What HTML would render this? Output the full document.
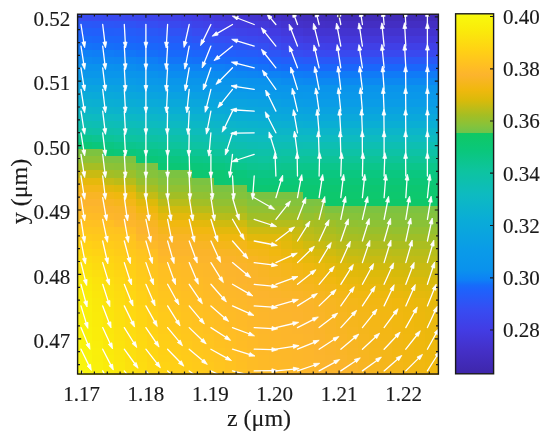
<!DOCTYPE html>
<html><head><meta charset="utf-8"><style>
html,body{margin:0;padding:0;background:#fff;width:550px;height:436px;overflow:hidden}
svg{display:block}
text{font-family:"Liberation Serif","DejaVu Serif",serif;font-size:21px;fill:#1a1a1a;stroke:#1a1a1a;stroke-width:0.15px}
</style></head><body>
<svg width="550" height="436" viewBox="0 0 550 436">
<defs><clipPath id="pc"><rect x="77.6" y="14.2" width="360.8" height="359.8"/></clipPath>
<linearGradient id="cb" x1="0" y1="0" x2="0" y2="1"><stop offset="0.0002" stop-color="#f8fa0d"/><stop offset="0.0452" stop-color="#faeb0a"/><stop offset="0.1004" stop-color="#ffd214"/><stop offset="0.1454" stop-color="#ffbe23"/><stop offset="0.1701" stop-color="#fcb42d"/><stop offset="0.2107" stop-color="#f0b80e"/><stop offset="0.2397" stop-color="#daba0a"/><stop offset="0.2811" stop-color="#a5be23"/><stop offset="0.3094" stop-color="#87c33a"/><stop offset="0.3311" stop-color="#6ec44b"/><stop offset="0.3312" stop-color="#0fc864"/><stop offset="0.3783" stop-color="#0ac77a"/><stop offset="0.4342" stop-color="#0dc49e"/><stop offset="0.5010" stop-color="#0dbbc0"/><stop offset="0.5728" stop-color="#0aacd7"/><stop offset="0.6563" stop-color="#0a9be8"/><stop offset="0.7114" stop-color="#0a92ed"/><stop offset="0.7397" stop-color="#0e80f6"/><stop offset="0.7535" stop-color="#166cfa"/><stop offset="0.7673" stop-color="#1e62fc"/><stop offset="0.8232" stop-color="#374cf2"/><stop offset="0.8783" stop-color="#423ce4"/><stop offset="0.9342" stop-color="#4430c8"/><stop offset="1.0000" stop-color="#3e26aa"/></linearGradient></defs>
<g shape-rendering="crispEdges"><rect x="77.6" y="14.2" width="3.6" height="7.6" fill="#374cf2"/><rect x="80.7" y="14.2" width="11.6" height="7.6" fill="#374bf1"/><rect x="91.8" y="14.2" width="11.6" height="7.6" fill="#384bf1"/><rect x="102.9" y="14.2" width="11.6" height="7.6" fill="#384af0"/><rect x="114.0" y="14.2" width="11.6" height="7.6" fill="#394af0"/><rect x="125.1" y="14.2" width="11.6" height="7.6" fill="#3a48ef"/><rect x="136.2" y="14.2" width="11.6" height="7.6" fill="#3b47ed"/><rect x="147.3" y="14.2" width="11.6" height="7.6" fill="#3c45ec"/><rect x="158.4" y="14.2" width="11.6" height="7.6" fill="#3d43ea"/><rect x="169.5" y="14.2" width="11.6" height="7.6" fill="#3f41e8"/><rect x="180.6" y="14.2" width="11.6" height="7.6" fill="#403ee6"/><rect x="191.7" y="14.2" width="11.6" height="7.6" fill="#423ce4"/><rect x="202.8" y="14.2" width="11.6" height="7.6" fill="#423adf"/><rect x="213.9" y="14.2" width="11.6" height="7.6" fill="#4338db"/><rect x="225.0" y="14.2" width="11.6" height="7.6" fill="#4337d7"/><rect x="236.1" y="14.2" width="11.6" height="7.6" fill="#4335d4"/><rect x="247.2" y="14.2" width="11.6" height="7.6" fill="#4334d0"/><rect x="258.3" y="14.2" width="11.6" height="7.6" fill="#4432cd"/><rect x="269.4" y="14.2" width="11.6" height="7.6" fill="#4430c9"/><rect x="280.5" y="14.2" width="11.6" height="7.6" fill="#432fc5"/><rect x="291.6" y="14.2" width="11.6" height="7.6" fill="#432ec1"/><rect x="302.7" y="14.2" width="11.6" height="7.6" fill="#422dbe"/><rect x="313.8" y="14.2" width="11.6" height="7.6" fill="#422cbd"/><rect x="324.9" y="14.2" width="11.6" height="7.6" fill="#412cbb"/><rect x="336.0" y="14.2" width="11.6" height="7.6" fill="#412bba"/><rect x="347.1" y="14.2" width="91.8" height="7.6" fill="#412bb9"/><rect x="77.6" y="21.3" width="3.6" height="7.6" fill="#2859f8"/><rect x="80.7" y="21.3" width="11.6" height="7.6" fill="#2958f8"/><rect x="91.8" y="21.3" width="11.6" height="7.6" fill="#2a57f7"/><rect x="102.9" y="21.3" width="11.6" height="7.6" fill="#2c56f7"/><rect x="114.0" y="21.3" width="11.6" height="7.6" fill="#2d55f6"/><rect x="125.1" y="21.3" width="11.6" height="7.6" fill="#2f53f5"/><rect x="136.2" y="21.3" width="11.6" height="7.6" fill="#3250f4"/><rect x="147.3" y="21.3" width="11.6" height="7.6" fill="#354ef3"/><rect x="158.4" y="21.3" width="11.6" height="7.6" fill="#384bf1"/><rect x="169.5" y="21.3" width="11.6" height="7.6" fill="#3949ef"/><rect x="180.6" y="21.3" width="11.6" height="7.6" fill="#3b46ed"/><rect x="191.7" y="21.3" width="11.6" height="7.6" fill="#3d43ea"/><rect x="202.8" y="21.3" width="11.6" height="7.6" fill="#3f41e8"/><rect x="213.9" y="21.3" width="11.6" height="7.6" fill="#403ee6"/><rect x="225.0" y="21.3" width="11.6" height="7.6" fill="#423ce4"/><rect x="236.1" y="21.3" width="11.6" height="7.6" fill="#423be1"/><rect x="247.2" y="21.3" width="11.6" height="7.6" fill="#4239de"/><rect x="258.3" y="21.3" width="11.6" height="7.6" fill="#4338da"/><rect x="269.4" y="21.3" width="11.6" height="7.6" fill="#4336d5"/><rect x="280.5" y="21.3" width="11.6" height="7.6" fill="#4333d0"/><rect x="291.6" y="21.3" width="11.6" height="7.6" fill="#4431ca"/><rect x="302.7" y="21.3" width="11.6" height="7.6" fill="#4430c7"/><rect x="313.8" y="21.3" width="11.6" height="7.6" fill="#442fc6"/><rect x="324.9" y="21.3" width="11.6" height="7.6" fill="#432fc5"/><rect x="336.0" y="21.3" width="11.6" height="7.6" fill="#432fc4"/><rect x="347.1" y="21.3" width="91.8" height="7.6" fill="#432ec3"/><rect x="77.6" y="28.4" width="3.6" height="7.6" fill="#2061fb"/><rect x="80.7" y="28.4" width="11.6" height="7.6" fill="#2060fb"/><rect x="91.8" y="28.4" width="11.6" height="7.6" fill="#215ffb"/><rect x="102.9" y="28.4" width="11.6" height="7.6" fill="#225efa"/><rect x="114.0" y="28.4" width="11.6" height="7.6" fill="#235efa"/><rect x="125.1" y="28.4" width="11.6" height="7.6" fill="#255cf9"/><rect x="136.2" y="28.4" width="11.6" height="7.6" fill="#275af8"/><rect x="147.3" y="28.4" width="11.6" height="7.6" fill="#2a58f7"/><rect x="158.4" y="28.4" width="11.6" height="7.6" fill="#2c55f6"/><rect x="169.5" y="28.4" width="11.6" height="7.6" fill="#3052f5"/><rect x="180.6" y="28.4" width="11.6" height="7.6" fill="#344ff3"/><rect x="191.7" y="28.4" width="11.6" height="7.6" fill="#384bf1"/><rect x="202.8" y="28.4" width="11.6" height="7.6" fill="#3a48ef"/><rect x="213.9" y="28.4" width="11.6" height="7.6" fill="#3b46ed"/><rect x="225.0" y="28.4" width="11.6" height="7.6" fill="#3d44eb"/><rect x="236.1" y="28.4" width="11.6" height="7.6" fill="#3e42e9"/><rect x="247.2" y="28.4" width="11.6" height="7.6" fill="#3f40e8"/><rect x="258.3" y="28.4" width="11.6" height="7.6" fill="#413ee6"/><rect x="269.4" y="28.4" width="11.6" height="7.6" fill="#423be2"/><rect x="280.5" y="28.4" width="11.6" height="7.6" fill="#4339dc"/><rect x="291.6" y="28.4" width="11.6" height="7.6" fill="#4336d7"/><rect x="302.7" y="28.4" width="22.7" height="7.6" fill="#4334d2"/><rect x="324.9" y="28.4" width="11.6" height="7.6" fill="#4334d1"/><rect x="336.0" y="28.4" width="11.6" height="7.6" fill="#4333d0"/><rect x="347.1" y="28.4" width="91.8" height="7.6" fill="#4333cf"/><rect x="77.6" y="35.5" width="3.6" height="7.6" fill="#186afa"/><rect x="80.7" y="35.5" width="11.6" height="7.6" fill="#1969fb"/><rect x="91.8" y="35.5" width="11.6" height="7.6" fill="#1a67fb"/><rect x="102.9" y="35.5" width="11.6" height="7.6" fill="#1b66fb"/><rect x="114.0" y="35.5" width="11.6" height="7.6" fill="#1c65fb"/><rect x="125.1" y="35.5" width="11.6" height="7.6" fill="#1e62fc"/><rect x="136.2" y="35.5" width="11.6" height="7.6" fill="#2060fb"/><rect x="147.3" y="35.5" width="11.6" height="7.6" fill="#225ffa"/><rect x="158.4" y="35.5" width="11.6" height="7.6" fill="#245dfa"/><rect x="169.5" y="35.5" width="11.6" height="7.6" fill="#265bf9"/><rect x="180.6" y="35.5" width="11.6" height="7.6" fill="#2a57f7"/><rect x="191.7" y="35.5" width="11.6" height="7.6" fill="#2e54f6"/><rect x="202.8" y="35.5" width="11.6" height="7.6" fill="#3251f4"/><rect x="213.9" y="35.5" width="11.6" height="7.6" fill="#354ef3"/><rect x="225.0" y="35.5" width="11.6" height="7.6" fill="#374cf2"/><rect x="236.1" y="35.5" width="11.6" height="7.6" fill="#384af0"/><rect x="247.2" y="35.5" width="11.6" height="7.6" fill="#3a48ef"/><rect x="258.3" y="35.5" width="11.6" height="7.6" fill="#3b46ed"/><rect x="269.4" y="35.5" width="11.6" height="7.6" fill="#3e43ea"/><rect x="280.5" y="35.5" width="11.6" height="7.6" fill="#403fe7"/><rect x="291.6" y="35.5" width="11.6" height="7.6" fill="#423ce3"/><rect x="302.7" y="35.5" width="11.6" height="7.6" fill="#423ade"/><rect x="313.8" y="35.5" width="11.6" height="7.6" fill="#4239de"/><rect x="324.9" y="35.5" width="11.6" height="7.6" fill="#4339dd"/><rect x="336.0" y="35.5" width="11.6" height="7.6" fill="#4338dc"/><rect x="347.1" y="35.5" width="91.8" height="7.6" fill="#4338db"/><rect x="77.6" y="42.6" width="3.6" height="7.6" fill="#1375f8"/><rect x="80.7" y="42.6" width="11.6" height="7.6" fill="#1373f9"/><rect x="91.8" y="42.6" width="11.6" height="7.6" fill="#1471f9"/><rect x="102.9" y="42.6" width="11.6" height="7.6" fill="#156ff9"/><rect x="114.0" y="42.6" width="11.6" height="7.6" fill="#166dfa"/><rect x="125.1" y="42.6" width="11.6" height="7.6" fill="#176bfa"/><rect x="136.2" y="42.6" width="11.6" height="7.6" fill="#1869fb"/><rect x="147.3" y="42.6" width="11.6" height="7.6" fill="#1a67fb"/><rect x="158.4" y="42.6" width="11.6" height="7.6" fill="#1c65fb"/><rect x="169.5" y="42.6" width="11.6" height="7.6" fill="#1e62fc"/><rect x="180.6" y="42.6" width="11.6" height="7.6" fill="#215ffb"/><rect x="191.7" y="42.6" width="11.6" height="7.6" fill="#245dfa"/><rect x="202.8" y="42.6" width="11.6" height="7.6" fill="#275af8"/><rect x="213.9" y="42.6" width="11.6" height="7.6" fill="#2a57f7"/><rect x="225.0" y="42.6" width="11.6" height="7.6" fill="#2c55f6"/><rect x="236.1" y="42.6" width="11.6" height="7.6" fill="#2f53f5"/><rect x="247.2" y="42.6" width="11.6" height="7.6" fill="#3152f5"/><rect x="258.3" y="42.6" width="11.6" height="7.6" fill="#344ff3"/><rect x="269.4" y="42.6" width="11.6" height="7.6" fill="#384bf1"/><rect x="280.5" y="42.6" width="11.6" height="7.6" fill="#3a47ee"/><rect x="291.6" y="42.6" width="11.6" height="7.6" fill="#3c44eb"/><rect x="302.7" y="42.6" width="11.6" height="7.6" fill="#3e42e9"/><rect x="313.8" y="42.6" width="11.6" height="7.6" fill="#3f41e8"/><rect x="324.9" y="42.6" width="11.6" height="7.6" fill="#3f40e8"/><rect x="336.0" y="42.6" width="11.6" height="7.6" fill="#3f40e7"/><rect x="347.1" y="42.6" width="91.8" height="7.6" fill="#4040e7"/><rect x="77.6" y="49.7" width="14.7" height="7.6" fill="#0e80f6"/><rect x="91.8" y="49.7" width="11.6" height="7.6" fill="#0f7ef6"/><rect x="102.9" y="49.7" width="11.6" height="7.6" fill="#107cf7"/><rect x="114.0" y="49.7" width="11.6" height="7.6" fill="#1179f7"/><rect x="125.1" y="49.7" width="11.6" height="7.6" fill="#1276f8"/><rect x="136.2" y="49.7" width="11.6" height="7.6" fill="#1372f9"/><rect x="147.3" y="49.7" width="11.6" height="7.6" fill="#156ff9"/><rect x="158.4" y="49.7" width="11.6" height="7.6" fill="#176bfa"/><rect x="169.5" y="49.7" width="11.6" height="7.6" fill="#1869fb"/><rect x="180.6" y="49.7" width="11.6" height="7.6" fill="#1a67fb"/><rect x="191.7" y="49.7" width="11.6" height="7.6" fill="#1c65fb"/><rect x="202.8" y="49.7" width="11.6" height="7.6" fill="#1d63fc"/><rect x="213.9" y="49.7" width="11.6" height="7.6" fill="#1f61fc"/><rect x="225.0" y="49.7" width="11.6" height="7.6" fill="#215ffb"/><rect x="236.1" y="49.7" width="11.6" height="7.6" fill="#235dfa"/><rect x="247.2" y="49.7" width="11.6" height="7.6" fill="#255cf9"/><rect x="258.3" y="49.7" width="11.6" height="7.6" fill="#2859f8"/><rect x="269.4" y="49.7" width="11.6" height="7.6" fill="#2d55f6"/><rect x="280.5" y="49.7" width="11.6" height="7.6" fill="#3151f4"/><rect x="291.6" y="49.7" width="11.6" height="7.6" fill="#364df2"/><rect x="302.7" y="49.7" width="11.6" height="7.6" fill="#384af1"/><rect x="313.8" y="49.7" width="11.6" height="7.6" fill="#384af0"/><rect x="324.9" y="49.7" width="11.6" height="7.6" fill="#3949f0"/><rect x="336.0" y="49.7" width="102.9" height="7.6" fill="#3949ef"/><rect x="77.6" y="56.8" width="3.6" height="7.6" fill="#0c89f1"/><rect x="80.7" y="56.8" width="11.6" height="7.6" fill="#0c89f2"/><rect x="91.8" y="56.8" width="11.6" height="7.6" fill="#0c87f2"/><rect x="102.9" y="56.8" width="11.6" height="7.6" fill="#0d86f3"/><rect x="114.0" y="56.8" width="11.6" height="7.6" fill="#0d85f3"/><rect x="125.1" y="56.8" width="11.6" height="7.6" fill="#0d84f4"/><rect x="136.2" y="56.8" width="11.6" height="7.6" fill="#0e81f5"/><rect x="147.3" y="56.8" width="11.6" height="7.6" fill="#0f7ef6"/><rect x="158.4" y="56.8" width="11.6" height="7.6" fill="#1178f8"/><rect x="169.5" y="56.8" width="11.6" height="7.6" fill="#1375f8"/><rect x="180.6" y="56.8" width="11.6" height="7.6" fill="#1373f9"/><rect x="191.7" y="56.8" width="11.6" height="7.6" fill="#1471f9"/><rect x="202.8" y="56.8" width="11.6" height="7.6" fill="#156ff9"/><rect x="213.9" y="56.8" width="11.6" height="7.6" fill="#166dfa"/><rect x="225.0" y="56.8" width="11.6" height="7.6" fill="#176bfa"/><rect x="236.1" y="56.8" width="11.6" height="7.6" fill="#1869fb"/><rect x="247.2" y="56.8" width="11.6" height="7.6" fill="#1a67fb"/><rect x="258.3" y="56.8" width="11.6" height="7.6" fill="#1c64fc"/><rect x="269.4" y="56.8" width="11.6" height="7.6" fill="#2060fb"/><rect x="280.5" y="56.8" width="11.6" height="7.6" fill="#235efa"/><rect x="291.6" y="56.8" width="11.6" height="7.6" fill="#265bf9"/><rect x="302.7" y="56.8" width="11.6" height="7.6" fill="#2959f8"/><rect x="313.8" y="56.8" width="11.6" height="7.6" fill="#2958f8"/><rect x="324.9" y="56.8" width="11.6" height="7.6" fill="#2958f7"/><rect x="336.0" y="56.8" width="102.9" height="7.6" fill="#2a58f7"/><rect x="77.6" y="63.9" width="25.8" height="7.6" fill="#0a92ed"/><rect x="102.9" y="63.9" width="11.6" height="7.6" fill="#0a91ee"/><rect x="114.0" y="63.9" width="11.6" height="7.6" fill="#0a90ee"/><rect x="125.1" y="63.9" width="11.6" height="7.6" fill="#0b8eef"/><rect x="136.2" y="63.9" width="11.6" height="7.6" fill="#0b8bf0"/><rect x="147.3" y="63.9" width="11.6" height="7.6" fill="#0c88f2"/><rect x="158.4" y="63.9" width="11.6" height="7.6" fill="#0d86f3"/><rect x="169.5" y="63.9" width="11.6" height="7.6" fill="#0d84f4"/><rect x="180.6" y="63.9" width="11.6" height="7.6" fill="#0d83f5"/><rect x="191.7" y="63.9" width="11.6" height="7.6" fill="#0e82f5"/><rect x="202.8" y="63.9" width="11.6" height="7.6" fill="#0e81f5"/><rect x="213.9" y="63.9" width="11.6" height="7.6" fill="#0e80f6"/><rect x="225.0" y="63.9" width="11.6" height="7.6" fill="#0f7df7"/><rect x="236.1" y="63.9" width="11.6" height="7.6" fill="#107af7"/><rect x="247.2" y="63.9" width="11.6" height="7.6" fill="#1277f8"/><rect x="258.3" y="63.9" width="11.6" height="7.6" fill="#1373f9"/><rect x="269.4" y="63.9" width="11.6" height="7.6" fill="#156efa"/><rect x="280.5" y="63.9" width="11.6" height="7.6" fill="#176bfa"/><rect x="291.6" y="63.9" width="11.6" height="7.6" fill="#1968fb"/><rect x="302.7" y="63.9" width="136.2" height="7.6" fill="#1a67fb"/><rect x="77.6" y="71.0" width="25.8" height="7.6" fill="#0a97ea"/><rect x="102.9" y="71.0" width="22.7" height="7.6" fill="#0a96eb"/><rect x="125.1" y="71.0" width="11.6" height="7.6" fill="#0a95eb"/><rect x="136.2" y="71.0" width="11.6" height="7.6" fill="#0a94ec"/><rect x="147.3" y="71.0" width="11.6" height="7.6" fill="#0a92ed"/><rect x="158.4" y="71.0" width="11.6" height="7.6" fill="#0b8fee"/><rect x="169.5" y="71.0" width="44.9" height="7.6" fill="#0b8df0"/><rect x="213.9" y="71.0" width="11.6" height="7.6" fill="#0b8cf0"/><rect x="225.0" y="71.0" width="11.6" height="7.6" fill="#0c89f1"/><rect x="236.1" y="71.0" width="11.6" height="7.6" fill="#0c87f2"/><rect x="247.2" y="71.0" width="11.6" height="7.6" fill="#0d85f3"/><rect x="258.3" y="71.0" width="11.6" height="7.6" fill="#0d83f4"/><rect x="269.4" y="71.0" width="11.6" height="7.6" fill="#0e82f5"/><rect x="280.5" y="71.0" width="11.6" height="7.6" fill="#0e80f6"/><rect x="291.6" y="71.0" width="11.6" height="7.6" fill="#0f7df7"/><rect x="302.7" y="71.0" width="136.2" height="7.6" fill="#107bf7"/><rect x="77.6" y="78.1" width="3.6" height="7.6" fill="#0a9fe4"/><rect x="80.7" y="78.1" width="11.6" height="7.6" fill="#0a9ee5"/><rect x="91.8" y="78.1" width="11.6" height="7.6" fill="#0a9de6"/><rect x="102.9" y="78.1" width="22.7" height="7.6" fill="#0a9ce7"/><rect x="125.1" y="78.1" width="11.6" height="7.6" fill="#0a9be8"/><rect x="136.2" y="78.1" width="11.6" height="7.6" fill="#0a99e9"/><rect x="147.3" y="78.1" width="11.6" height="7.6" fill="#0a98ea"/><rect x="158.4" y="78.1" width="11.6" height="7.6" fill="#0a97ea"/><rect x="169.5" y="78.1" width="11.6" height="7.6" fill="#0a96eb"/><rect x="180.6" y="78.1" width="22.7" height="7.6" fill="#0a95eb"/><rect x="202.8" y="78.1" width="22.7" height="7.6" fill="#0a94ec"/><rect x="225.0" y="78.1" width="11.6" height="7.6" fill="#0a93ec"/><rect x="236.1" y="78.1" width="11.6" height="7.6" fill="#0a93ed"/><rect x="247.2" y="78.1" width="22.7" height="7.6" fill="#0a92ed"/><rect x="269.4" y="78.1" width="11.6" height="7.6" fill="#0b8fef"/><rect x="280.5" y="78.1" width="11.6" height="7.6" fill="#0b8cf0"/><rect x="291.6" y="78.1" width="11.6" height="7.6" fill="#0c8af1"/><rect x="302.7" y="78.1" width="136.2" height="7.6" fill="#0c88f2"/><rect x="77.6" y="85.2" width="3.6" height="7.6" fill="#0aa5de"/><rect x="80.7" y="85.2" width="22.7" height="7.6" fill="#0aa4df"/><rect x="102.9" y="85.2" width="11.6" height="7.6" fill="#0aa3e0"/><rect x="114.0" y="85.2" width="11.6" height="7.6" fill="#0aa2e1"/><rect x="125.1" y="85.2" width="11.6" height="7.6" fill="#0aa1e2"/><rect x="136.2" y="85.2" width="11.6" height="7.6" fill="#0a9fe4"/><rect x="147.3" y="85.2" width="11.6" height="7.6" fill="#0a9ee5"/><rect x="158.4" y="85.2" width="11.6" height="7.6" fill="#0a9de6"/><rect x="169.5" y="85.2" width="11.6" height="7.6" fill="#0a9be8"/><rect x="180.6" y="85.2" width="11.6" height="7.6" fill="#0a9ae8"/><rect x="191.7" y="85.2" width="11.6" height="7.6" fill="#0a9ae9"/><rect x="202.8" y="85.2" width="11.6" height="7.6" fill="#0a99e9"/><rect x="213.9" y="85.2" width="22.7" height="7.6" fill="#0a98ea"/><rect x="236.1" y="85.2" width="11.6" height="7.6" fill="#0a97ea"/><rect x="247.2" y="85.2" width="22.7" height="7.6" fill="#0a96eb"/><rect x="269.4" y="85.2" width="11.6" height="7.6" fill="#0a95eb"/><rect x="280.5" y="85.2" width="11.6" height="7.6" fill="#0a95ec"/><rect x="291.6" y="85.2" width="147.3" height="7.6" fill="#0a94ec"/><rect x="77.6" y="92.3" width="14.7" height="7.6" fill="#0aabd8"/><rect x="91.8" y="92.3" width="11.6" height="7.6" fill="#0aaad9"/><rect x="102.9" y="92.3" width="11.6" height="7.6" fill="#0aa9da"/><rect x="114.0" y="92.3" width="11.6" height="7.6" fill="#0aa8db"/><rect x="125.1" y="92.3" width="11.6" height="7.6" fill="#0aa7dc"/><rect x="136.2" y="92.3" width="11.6" height="7.6" fill="#0aa6dd"/><rect x="147.3" y="92.3" width="11.6" height="7.6" fill="#0aa4df"/><rect x="158.4" y="92.3" width="11.6" height="7.6" fill="#0aa3e0"/><rect x="169.5" y="92.3" width="11.6" height="7.6" fill="#0aa2e1"/><rect x="180.6" y="92.3" width="11.6" height="7.6" fill="#0aa1e2"/><rect x="191.7" y="92.3" width="11.6" height="7.6" fill="#0aa0e3"/><rect x="202.8" y="92.3" width="11.6" height="7.6" fill="#0a9fe4"/><rect x="213.9" y="92.3" width="11.6" height="7.6" fill="#0a9ee5"/><rect x="225.0" y="92.3" width="11.6" height="7.6" fill="#0a9de6"/><rect x="236.1" y="92.3" width="11.6" height="7.6" fill="#0a9ce7"/><rect x="247.2" y="92.3" width="22.7" height="7.6" fill="#0a9be8"/><rect x="269.4" y="92.3" width="11.6" height="7.6" fill="#0a9ae9"/><rect x="280.5" y="92.3" width="11.6" height="7.6" fill="#0a99e9"/><rect x="291.6" y="92.3" width="11.6" height="7.6" fill="#0a98e9"/><rect x="302.7" y="92.3" width="136.2" height="7.6" fill="#0a98ea"/><rect x="77.6" y="99.4" width="3.6" height="7.6" fill="#0bb0d0"/><rect x="80.7" y="99.4" width="11.6" height="7.6" fill="#0bb0d1"/><rect x="91.8" y="99.4" width="11.6" height="7.6" fill="#0bafd2"/><rect x="102.9" y="99.4" width="11.6" height="7.6" fill="#0aaed4"/><rect x="114.0" y="99.4" width="11.6" height="7.6" fill="#0aadd5"/><rect x="125.1" y="99.4" width="11.6" height="7.6" fill="#0aacd6"/><rect x="136.2" y="99.4" width="11.6" height="7.6" fill="#0aabd8"/><rect x="147.3" y="99.4" width="11.6" height="7.6" fill="#0aaad9"/><rect x="158.4" y="99.4" width="11.6" height="7.6" fill="#0aa9da"/><rect x="169.5" y="99.4" width="11.6" height="7.6" fill="#0aa8db"/><rect x="180.6" y="99.4" width="11.6" height="7.6" fill="#0aa7dc"/><rect x="191.7" y="99.4" width="11.6" height="7.6" fill="#0aa6dd"/><rect x="202.8" y="99.4" width="11.6" height="7.6" fill="#0aa5de"/><rect x="213.9" y="99.4" width="11.6" height="7.6" fill="#0aa4df"/><rect x="225.0" y="99.4" width="22.7" height="7.6" fill="#0aa3e0"/><rect x="247.2" y="99.4" width="11.6" height="7.6" fill="#0aa2e1"/><rect x="258.3" y="99.4" width="11.6" height="7.6" fill="#0aa1e2"/><rect x="269.4" y="99.4" width="11.6" height="7.6" fill="#0aa0e3"/><rect x="280.5" y="99.4" width="11.6" height="7.6" fill="#0a9ee5"/><rect x="291.6" y="99.4" width="11.6" height="7.6" fill="#0a9de6"/><rect x="302.7" y="99.4" width="136.2" height="7.6" fill="#0a9ce7"/><rect x="77.6" y="106.5" width="3.6" height="7.6" fill="#0cb6c8"/><rect x="80.7" y="106.5" width="11.6" height="7.6" fill="#0cb5c9"/><rect x="91.8" y="106.5" width="11.6" height="7.6" fill="#0cb4ca"/><rect x="102.9" y="106.5" width="11.6" height="7.6" fill="#0bb3cc"/><rect x="114.0" y="106.5" width="11.6" height="7.6" fill="#0bb2cd"/><rect x="125.1" y="106.5" width="11.6" height="7.6" fill="#0bb2cf"/><rect x="136.2" y="106.5" width="11.6" height="7.6" fill="#0bb1d0"/><rect x="147.3" y="106.5" width="11.6" height="7.6" fill="#0bb0d1"/><rect x="158.4" y="106.5" width="11.6" height="7.6" fill="#0bafd3"/><rect x="169.5" y="106.5" width="11.6" height="7.6" fill="#0aaed4"/><rect x="180.6" y="106.5" width="11.6" height="7.6" fill="#0aadd6"/><rect x="191.7" y="106.5" width="11.6" height="7.6" fill="#0aacd7"/><rect x="202.8" y="106.5" width="11.6" height="7.6" fill="#0aabd8"/><rect x="213.9" y="106.5" width="11.6" height="7.6" fill="#0aaad9"/><rect x="225.0" y="106.5" width="11.6" height="7.6" fill="#0aa9da"/><rect x="236.1" y="106.5" width="11.6" height="7.6" fill="#0aa8db"/><rect x="247.2" y="106.5" width="11.6" height="7.6" fill="#0aa7dc"/><rect x="258.3" y="106.5" width="11.6" height="7.6" fill="#0aa6dd"/><rect x="269.4" y="106.5" width="11.6" height="7.6" fill="#0aa5de"/><rect x="280.5" y="106.5" width="11.6" height="7.6" fill="#0aa4df"/><rect x="291.6" y="106.5" width="11.6" height="7.6" fill="#0aa3e0"/><rect x="302.7" y="106.5" width="136.2" height="7.6" fill="#0aa2e1"/><rect x="77.6" y="113.6" width="3.6" height="7.6" fill="#0dbbbe"/><rect x="80.7" y="113.6" width="11.6" height="7.6" fill="#0dbbbf"/><rect x="91.8" y="113.6" width="11.6" height="7.6" fill="#0dbac1"/><rect x="102.9" y="113.6" width="11.6" height="7.6" fill="#0dbac2"/><rect x="114.0" y="113.6" width="11.6" height="7.6" fill="#0db9c4"/><rect x="125.1" y="113.6" width="11.6" height="7.6" fill="#0cb8c5"/><rect x="136.2" y="113.6" width="11.6" height="7.6" fill="#0cb7c7"/><rect x="147.3" y="113.6" width="11.6" height="7.6" fill="#0cb6c8"/><rect x="158.4" y="113.6" width="11.6" height="7.6" fill="#0cb5ca"/><rect x="169.5" y="113.6" width="11.6" height="7.6" fill="#0cb4cb"/><rect x="180.6" y="113.6" width="11.6" height="7.6" fill="#0bb3cd"/><rect x="191.7" y="113.6" width="11.6" height="7.6" fill="#0bb2ce"/><rect x="202.8" y="113.6" width="11.6" height="7.6" fill="#0bb1d0"/><rect x="213.9" y="113.6" width="11.6" height="7.6" fill="#0bb0d2"/><rect x="225.0" y="113.6" width="11.6" height="7.6" fill="#0aaed3"/><rect x="236.1" y="113.6" width="11.6" height="7.6" fill="#0aadd5"/><rect x="247.2" y="113.6" width="11.6" height="7.6" fill="#0aacd7"/><rect x="258.3" y="113.6" width="11.6" height="7.6" fill="#0aabd8"/><rect x="269.4" y="113.6" width="11.6" height="7.6" fill="#0aaad9"/><rect x="280.5" y="113.6" width="22.7" height="7.6" fill="#0aa9da"/><rect x="302.7" y="113.6" width="136.2" height="7.6" fill="#0aa8db"/><rect x="77.6" y="120.7" width="3.6" height="7.6" fill="#0dbfb1"/><rect x="80.7" y="120.7" width="11.6" height="7.6" fill="#0dbfb2"/><rect x="91.8" y="120.7" width="11.6" height="7.6" fill="#0dbeb4"/><rect x="102.9" y="120.7" width="11.6" height="7.6" fill="#0dbeb6"/><rect x="114.0" y="120.7" width="11.6" height="7.6" fill="#0dbdb8"/><rect x="125.1" y="120.7" width="11.6" height="7.6" fill="#0dbdba"/><rect x="136.2" y="120.7" width="11.6" height="7.6" fill="#0dbcbc"/><rect x="147.3" y="120.7" width="11.6" height="7.6" fill="#0dbbbf"/><rect x="158.4" y="120.7" width="11.6" height="7.6" fill="#0dbac1"/><rect x="169.5" y="120.7" width="11.6" height="7.6" fill="#0db9c2"/><rect x="180.6" y="120.7" width="11.6" height="7.6" fill="#0cb8c4"/><rect x="191.7" y="120.7" width="11.6" height="7.6" fill="#0cb7c6"/><rect x="202.8" y="120.7" width="11.6" height="7.6" fill="#0cb6c7"/><rect x="213.9" y="120.7" width="11.6" height="7.6" fill="#0cb5c9"/><rect x="225.0" y="120.7" width="11.6" height="7.6" fill="#0cb4cb"/><rect x="236.1" y="120.7" width="11.6" height="7.6" fill="#0bb3cd"/><rect x="247.2" y="120.7" width="11.6" height="7.6" fill="#0bb2ce"/><rect x="258.3" y="120.7" width="11.6" height="7.6" fill="#0bb1d0"/><rect x="269.4" y="120.7" width="11.6" height="7.6" fill="#0bb0d1"/><rect x="280.5" y="120.7" width="11.6" height="7.6" fill="#0bafd2"/><rect x="291.6" y="120.7" width="11.6" height="7.6" fill="#0bafd3"/><rect x="302.7" y="120.7" width="136.2" height="7.6" fill="#0aaed4"/><rect x="77.6" y="127.8" width="3.6" height="7.6" fill="#0dc3a2"/><rect x="80.7" y="127.8" width="11.6" height="7.6" fill="#0dc3a4"/><rect x="91.8" y="127.8" width="11.6" height="7.6" fill="#0dc2a6"/><rect x="102.9" y="127.8" width="11.6" height="7.6" fill="#0dc1a9"/><rect x="114.0" y="127.8" width="11.6" height="7.6" fill="#0dc1ab"/><rect x="125.1" y="127.8" width="11.6" height="7.6" fill="#0dc0ad"/><rect x="136.2" y="127.8" width="11.6" height="7.6" fill="#0dbfaf"/><rect x="147.3" y="127.8" width="11.6" height="7.6" fill="#0dbfb2"/><rect x="158.4" y="127.8" width="11.6" height="7.6" fill="#0dbeb4"/><rect x="169.5" y="127.8" width="11.6" height="7.6" fill="#0dbeb6"/><rect x="180.6" y="127.8" width="11.6" height="7.6" fill="#0dbdb9"/><rect x="191.7" y="127.8" width="11.6" height="7.6" fill="#0dbcbc"/><rect x="202.8" y="127.8" width="11.6" height="7.6" fill="#0dbbbe"/><rect x="213.9" y="127.8" width="11.6" height="7.6" fill="#0dbac1"/><rect x="225.0" y="127.8" width="11.6" height="7.6" fill="#0db9c3"/><rect x="236.1" y="127.8" width="11.6" height="7.6" fill="#0cb8c5"/><rect x="247.2" y="127.8" width="11.6" height="7.6" fill="#0cb7c7"/><rect x="258.3" y="127.8" width="11.6" height="7.6" fill="#0cb6c8"/><rect x="269.4" y="127.8" width="11.6" height="7.6" fill="#0cb5c8"/><rect x="280.5" y="127.8" width="22.7" height="7.6" fill="#0cb5c9"/><rect x="302.7" y="127.8" width="136.2" height="7.6" fill="#0cb5ca"/><rect x="77.6" y="134.9" width="3.6" height="7.6" fill="#0bc689"/><rect x="80.7" y="134.9" width="11.6" height="7.6" fill="#0bc68c"/><rect x="91.8" y="134.9" width="11.6" height="7.6" fill="#0cc591"/><rect x="102.9" y="134.9" width="11.6" height="7.6" fill="#0cc597"/><rect x="114.0" y="134.9" width="11.6" height="7.6" fill="#0dc49c"/><rect x="125.1" y="134.9" width="11.6" height="7.6" fill="#0dc4a0"/><rect x="136.2" y="134.9" width="11.6" height="7.6" fill="#0dc3a2"/><rect x="147.3" y="134.9" width="11.6" height="7.6" fill="#0dc2a4"/><rect x="158.4" y="134.9" width="11.6" height="7.6" fill="#0dc2a6"/><rect x="169.5" y="134.9" width="11.6" height="7.6" fill="#0dc1a9"/><rect x="180.6" y="134.9" width="11.6" height="7.6" fill="#0dc0ac"/><rect x="191.7" y="134.9" width="11.6" height="7.6" fill="#0dbfaf"/><rect x="202.8" y="134.9" width="11.6" height="7.6" fill="#0dbfb2"/><rect x="213.9" y="134.9" width="11.6" height="7.6" fill="#0dbeb5"/><rect x="225.0" y="134.9" width="11.6" height="7.6" fill="#0dbdb9"/><rect x="236.1" y="134.9" width="11.6" height="7.6" fill="#0dbcbc"/><rect x="247.2" y="134.9" width="11.6" height="7.6" fill="#0dbbbf"/><rect x="258.3" y="134.9" width="180.6" height="7.6" fill="#0dbbc0"/><rect x="77.6" y="142.0" width="3.6" height="7.6" fill="#0bc774"/><rect x="80.7" y="142.0" width="11.6" height="7.6" fill="#0bc776"/><rect x="91.8" y="142.0" width="11.6" height="7.6" fill="#0ac77b"/><rect x="102.9" y="142.0" width="11.6" height="7.6" fill="#0bc682"/><rect x="114.0" y="142.0" width="11.6" height="7.6" fill="#0bc688"/><rect x="125.1" y="142.0" width="11.6" height="7.6" fill="#0cc58d"/><rect x="136.2" y="142.0" width="11.6" height="7.6" fill="#0cc591"/><rect x="147.3" y="142.0" width="11.6" height="7.6" fill="#0cc595"/><rect x="158.4" y="142.0" width="11.6" height="7.6" fill="#0dc498"/><rect x="169.5" y="142.0" width="11.6" height="7.6" fill="#0dc49c"/><rect x="180.6" y="142.0" width="11.6" height="7.6" fill="#0dc3a0"/><rect x="191.7" y="142.0" width="11.6" height="7.6" fill="#0dc3a3"/><rect x="202.8" y="142.0" width="11.6" height="7.6" fill="#0dc2a6"/><rect x="213.9" y="142.0" width="11.6" height="7.6" fill="#0dc1a9"/><rect x="225.0" y="142.0" width="11.6" height="7.6" fill="#0dc0ad"/><rect x="236.1" y="142.0" width="11.6" height="7.6" fill="#0dbfb0"/><rect x="247.2" y="142.0" width="11.6" height="7.6" fill="#0dbeb3"/><rect x="258.3" y="142.0" width="11.6" height="7.6" fill="#0dbeb5"/><rect x="269.4" y="142.0" width="11.6" height="7.6" fill="#0dbeb4"/><rect x="280.5" y="142.0" width="22.7" height="7.6" fill="#0dbeb3"/><rect x="302.7" y="142.0" width="136.2" height="7.6" fill="#0dbfb2"/><rect x="77.6" y="149.1" width="25.8" height="7.6" fill="#7dc340"/><rect x="102.9" y="149.1" width="11.6" height="7.6" fill="#0bc774"/><rect x="114.0" y="149.1" width="11.6" height="7.6" fill="#0bc778"/><rect x="125.1" y="149.1" width="11.6" height="7.6" fill="#0ac77b"/><rect x="136.2" y="149.1" width="11.6" height="7.6" fill="#0ac780"/><rect x="147.3" y="149.1" width="11.6" height="7.6" fill="#0bc685"/><rect x="158.4" y="149.1" width="11.6" height="7.6" fill="#0bc689"/><rect x="169.5" y="149.1" width="11.6" height="7.6" fill="#0cc58e"/><rect x="180.6" y="149.1" width="11.6" height="7.6" fill="#0cc592"/><rect x="191.7" y="149.1" width="11.6" height="7.6" fill="#0cc596"/><rect x="202.8" y="149.1" width="11.6" height="7.6" fill="#0dc499"/><rect x="213.9" y="149.1" width="11.6" height="7.6" fill="#0dc49d"/><rect x="225.0" y="149.1" width="11.6" height="7.6" fill="#0dc3a1"/><rect x="236.1" y="149.1" width="11.6" height="7.6" fill="#0dc2a4"/><rect x="247.2" y="149.1" width="11.6" height="7.6" fill="#0dc1a7"/><rect x="258.3" y="149.1" width="11.6" height="7.6" fill="#0dc1a9"/><rect x="269.4" y="149.1" width="11.6" height="7.6" fill="#0dc1a8"/><rect x="280.5" y="149.1" width="22.7" height="7.6" fill="#0dc2a7"/><rect x="302.7" y="149.1" width="136.2" height="7.6" fill="#0dc2a6"/><rect x="77.6" y="156.2" width="25.8" height="7.6" fill="#8ec235"/><rect x="102.9" y="156.2" width="22.7" height="7.6" fill="#7dc341"/><rect x="125.1" y="156.2" width="11.6" height="7.6" fill="#7cc341"/><rect x="136.2" y="156.2" width="11.6" height="7.6" fill="#0bc777"/><rect x="147.3" y="156.2" width="11.6" height="7.6" fill="#0ac779"/><rect x="158.4" y="156.2" width="11.6" height="7.6" fill="#0ac77d"/><rect x="169.5" y="156.2" width="11.6" height="7.6" fill="#0bc680"/><rect x="180.6" y="156.2" width="11.6" height="7.6" fill="#0bc684"/><rect x="191.7" y="156.2" width="11.6" height="7.6" fill="#0bc687"/><rect x="202.8" y="156.2" width="11.6" height="7.6" fill="#0bc68a"/><rect x="213.9" y="156.2" width="11.6" height="7.6" fill="#0cc58e"/><rect x="225.0" y="156.2" width="11.6" height="7.6" fill="#0cc593"/><rect x="236.1" y="156.2" width="11.6" height="7.6" fill="#0cc598"/><rect x="247.2" y="156.2" width="11.6" height="7.6" fill="#0dc49c"/><rect x="258.3" y="156.2" width="11.6" height="7.6" fill="#0dc49f"/><rect x="269.4" y="156.2" width="11.6" height="7.6" fill="#0dc49d"/><rect x="280.5" y="156.2" width="11.6" height="7.6" fill="#0dc49b"/><rect x="291.6" y="156.2" width="11.6" height="7.6" fill="#0dc499"/><rect x="302.7" y="156.2" width="136.2" height="7.6" fill="#0dc498"/><rect x="77.6" y="163.3" width="25.8" height="7.6" fill="#a6be23"/><rect x="102.9" y="163.3" width="11.6" height="7.6" fill="#8dc236"/><rect x="114.0" y="163.3" width="11.6" height="7.6" fill="#8bc237"/><rect x="125.1" y="163.3" width="11.6" height="7.6" fill="#89c338"/><rect x="136.2" y="163.3" width="11.6" height="7.6" fill="#7cc341"/><rect x="147.3" y="163.3" width="11.6" height="7.6" fill="#7cc342"/><rect x="158.4" y="163.3" width="11.6" height="7.6" fill="#0bc774"/><rect x="169.5" y="163.3" width="11.6" height="7.6" fill="#0bc775"/><rect x="180.6" y="163.3" width="11.6" height="7.6" fill="#0bc777"/><rect x="191.7" y="163.3" width="11.6" height="7.6" fill="#0ac779"/><rect x="202.8" y="163.3" width="11.6" height="7.6" fill="#0ac77b"/><rect x="213.9" y="163.3" width="11.6" height="7.6" fill="#0ac77f"/><rect x="225.0" y="163.3" width="11.6" height="7.6" fill="#0bc684"/><rect x="236.1" y="163.3" width="11.6" height="7.6" fill="#0bc68a"/><rect x="247.2" y="163.3" width="11.6" height="7.6" fill="#0cc58f"/><rect x="258.3" y="163.3" width="11.6" height="7.6" fill="#0cc591"/><rect x="269.4" y="163.3" width="11.6" height="7.6" fill="#0cc58f"/><rect x="280.5" y="163.3" width="11.6" height="7.6" fill="#0cc58d"/><rect x="291.6" y="163.3" width="11.6" height="7.6" fill="#0bc68b"/><rect x="302.7" y="163.3" width="136.2" height="7.6" fill="#0bc68a"/><rect x="77.6" y="170.4" width="25.8" height="7.6" fill="#c9bb12"/><rect x="102.9" y="170.4" width="11.6" height="7.6" fill="#a3be25"/><rect x="114.0" y="170.4" width="11.6" height="7.6" fill="#9fbf28"/><rect x="125.1" y="170.4" width="11.6" height="7.6" fill="#9bc02b"/><rect x="136.2" y="170.4" width="11.6" height="7.6" fill="#88c339"/><rect x="147.3" y="170.4" width="11.6" height="7.6" fill="#86c33b"/><rect x="158.4" y="170.4" width="33.8" height="7.6" fill="#7bc342"/><rect x="191.7" y="170.4" width="11.6" height="7.6" fill="#0cc770"/><rect x="202.8" y="170.4" width="11.6" height="7.6" fill="#0cc771"/><rect x="213.9" y="170.4" width="11.6" height="7.6" fill="#0cc773"/><rect x="225.0" y="170.4" width="11.6" height="7.6" fill="#0bc777"/><rect x="236.1" y="170.4" width="11.6" height="7.6" fill="#0ac77c"/><rect x="247.2" y="170.4" width="11.6" height="7.6" fill="#0bc682"/><rect x="258.3" y="170.4" width="11.6" height="7.6" fill="#0bc685"/><rect x="269.4" y="170.4" width="11.6" height="7.6" fill="#0bc684"/><rect x="280.5" y="170.4" width="11.6" height="7.6" fill="#0bc682"/><rect x="291.6" y="170.4" width="11.6" height="7.6" fill="#0bc681"/><rect x="302.7" y="170.4" width="136.2" height="7.6" fill="#0ac780"/><rect x="77.6" y="177.5" width="25.8" height="7.6" fill="#e6b90c"/><rect x="102.9" y="177.5" width="11.6" height="7.6" fill="#c4bc15"/><rect x="114.0" y="177.5" width="11.6" height="7.6" fill="#bcbc18"/><rect x="125.1" y="177.5" width="11.6" height="7.6" fill="#b5bd1b"/><rect x="136.2" y="177.5" width="11.6" height="7.6" fill="#97c02d"/><rect x="147.3" y="177.5" width="11.6" height="7.6" fill="#95c130"/><rect x="158.4" y="177.5" width="11.6" height="7.6" fill="#85c33c"/><rect x="169.5" y="177.5" width="22.7" height="7.6" fill="#84c33c"/><rect x="191.7" y="177.5" width="22.7" height="7.6" fill="#7bc342"/><rect x="213.9" y="177.5" width="11.6" height="7.6" fill="#0cc771"/><rect x="225.0" y="177.5" width="11.6" height="7.6" fill="#0cc773"/><rect x="236.1" y="177.5" width="11.6" height="7.6" fill="#0bc776"/><rect x="247.2" y="177.5" width="11.6" height="7.6" fill="#0ac778"/><rect x="258.3" y="177.5" width="11.6" height="7.6" fill="#0ac77a"/><rect x="269.4" y="177.5" width="11.6" height="7.6" fill="#0ac779"/><rect x="280.5" y="177.5" width="11.6" height="7.6" fill="#0ac778"/><rect x="291.6" y="177.5" width="147.3" height="7.6" fill="#0bc777"/><rect x="77.6" y="184.6" width="25.8" height="7.6" fill="#f3b717"/><rect x="102.9" y="184.6" width="11.6" height="7.6" fill="#e2b90b"/><rect x="114.0" y="184.6" width="11.6" height="7.6" fill="#ddba0a"/><rect x="125.1" y="184.6" width="11.6" height="7.6" fill="#d5ba0c"/><rect x="136.2" y="184.6" width="11.6" height="7.6" fill="#afbd1e"/><rect x="147.3" y="184.6" width="11.6" height="7.6" fill="#a8be21"/><rect x="158.4" y="184.6" width="11.6" height="7.6" fill="#92c131"/><rect x="169.5" y="184.6" width="22.7" height="7.6" fill="#92c132"/><rect x="191.7" y="184.6" width="22.7" height="7.6" fill="#84c33c"/><rect x="213.9" y="184.6" width="33.8" height="7.6" fill="#7bc342"/><rect x="247.2" y="184.6" width="11.6" height="7.6" fill="#0cc771"/><rect x="258.3" y="184.6" width="11.6" height="7.6" fill="#0cc772"/><rect x="269.4" y="184.6" width="169.5" height="7.6" fill="#0cc771"/><rect x="77.6" y="191.7" width="25.8" height="7.6" fill="#f9b525"/><rect x="102.9" y="191.7" width="11.6" height="7.6" fill="#f2b713"/><rect x="114.0" y="191.7" width="11.6" height="7.6" fill="#f0b80f"/><rect x="125.1" y="191.7" width="11.6" height="7.6" fill="#eab90d"/><rect x="136.2" y="191.7" width="11.6" height="7.6" fill="#ccbb11"/><rect x="147.3" y="191.7" width="11.6" height="7.6" fill="#c3bc15"/><rect x="158.4" y="191.7" width="11.6" height="7.6" fill="#a3be25"/><rect x="169.5" y="191.7" width="11.6" height="7.6" fill="#a2be25"/><rect x="180.6" y="191.7" width="11.6" height="7.6" fill="#a2bf25"/><rect x="191.7" y="191.7" width="11.6" height="7.6" fill="#92c132"/><rect x="202.8" y="191.7" width="11.6" height="7.6" fill="#91c132"/><rect x="213.9" y="191.7" width="33.8" height="7.6" fill="#84c33c"/><rect x="247.2" y="191.7" width="56.0" height="7.6" fill="#7bc342"/><rect x="302.7" y="191.7" width="44.9" height="7.6" fill="#0dc86d"/><rect x="347.1" y="191.7" width="91.8" height="7.6" fill="#0dc86e"/><rect x="77.6" y="198.8" width="25.8" height="7.6" fill="#fcb42d"/><rect x="102.9" y="198.8" width="11.6" height="7.6" fill="#f8b522"/><rect x="114.0" y="198.8" width="11.6" height="7.6" fill="#f6b61d"/><rect x="125.1" y="198.8" width="11.6" height="7.6" fill="#f3b717"/><rect x="136.2" y="198.8" width="11.6" height="7.6" fill="#e3b90c"/><rect x="147.3" y="198.8" width="11.6" height="7.6" fill="#ddba0a"/><rect x="158.4" y="198.8" width="11.6" height="7.6" fill="#babc19"/><rect x="169.5" y="198.8" width="22.7" height="7.6" fill="#b8bd1a"/><rect x="191.7" y="198.8" width="11.6" height="7.6" fill="#a2bf26"/><rect x="202.8" y="198.8" width="11.6" height="7.6" fill="#a1bf26"/><rect x="213.9" y="198.8" width="33.8" height="7.6" fill="#91c132"/><rect x="247.2" y="198.8" width="56.0" height="7.6" fill="#84c33c"/><rect x="302.7" y="198.8" width="11.6" height="7.6" fill="#7cc342"/><rect x="313.8" y="198.8" width="11.6" height="7.6" fill="#7dc341"/><rect x="324.9" y="198.8" width="11.6" height="7.6" fill="#0dc86b"/><rect x="336.0" y="198.8" width="102.9" height="7.6" fill="#0ec86a"/><rect x="77.6" y="205.9" width="14.7" height="7.6" fill="#fdb829"/><rect x="91.8" y="205.9" width="11.6" height="7.6" fill="#fdb72a"/><rect x="102.9" y="205.9" width="11.6" height="7.6" fill="#fbb42b"/><rect x="114.0" y="205.9" width="11.6" height="7.6" fill="#fab528"/><rect x="125.1" y="205.9" width="11.6" height="7.6" fill="#f9b524"/><rect x="136.2" y="205.9" width="11.6" height="7.6" fill="#f1b811"/><rect x="147.3" y="205.9" width="11.6" height="7.6" fill="#edb80d"/><rect x="158.4" y="205.9" width="11.6" height="7.6" fill="#d3bb0d"/><rect x="169.5" y="205.9" width="11.6" height="7.6" fill="#d2bb0e"/><rect x="180.6" y="205.9" width="11.6" height="7.6" fill="#d1bb0e"/><rect x="191.7" y="205.9" width="22.7" height="7.6" fill="#b7bd1a"/><rect x="213.9" y="205.9" width="33.8" height="7.6" fill="#a1bf26"/><rect x="247.2" y="205.9" width="11.6" height="7.6" fill="#91c132"/><rect x="258.3" y="205.9" width="33.8" height="7.6" fill="#91c133"/><rect x="291.6" y="205.9" width="11.6" height="7.6" fill="#90c133"/><rect x="302.7" y="205.9" width="11.6" height="7.6" fill="#86c33a"/><rect x="313.8" y="205.9" width="11.6" height="7.6" fill="#8ac237"/><rect x="324.9" y="205.9" width="44.9" height="7.6" fill="#7dc340"/><rect x="369.3" y="205.9" width="69.6" height="7.6" fill="#7dc341"/><rect x="77.6" y="213.0" width="14.7" height="7.6" fill="#febc25"/><rect x="91.8" y="213.0" width="11.6" height="7.6" fill="#febb26"/><rect x="102.9" y="213.0" width="11.6" height="7.6" fill="#fdb72a"/><rect x="114.0" y="213.0" width="11.6" height="7.6" fill="#fcb52c"/><rect x="125.1" y="213.0" width="11.6" height="7.6" fill="#fbb42b"/><rect x="136.2" y="213.0" width="11.6" height="7.6" fill="#f6b61e"/><rect x="147.3" y="213.0" width="11.6" height="7.6" fill="#f4b718"/><rect x="158.4" y="213.0" width="11.6" height="7.6" fill="#e5b90c"/><rect x="169.5" y="213.0" width="22.7" height="7.6" fill="#e4b90c"/><rect x="191.7" y="213.0" width="11.6" height="7.6" fill="#d1bb0e"/><rect x="202.8" y="213.0" width="11.6" height="7.6" fill="#d0bb0f"/><rect x="213.9" y="213.0" width="11.6" height="7.6" fill="#b7bd1b"/><rect x="225.0" y="213.0" width="22.7" height="7.6" fill="#b6bd1b"/><rect x="247.2" y="213.0" width="11.6" height="7.6" fill="#a0bf26"/><rect x="258.3" y="213.0" width="33.8" height="7.6" fill="#a0bf27"/><rect x="291.6" y="213.0" width="11.6" height="7.6" fill="#9fbf27"/><rect x="302.7" y="213.0" width="11.6" height="7.6" fill="#95c12f"/><rect x="313.8" y="213.0" width="11.6" height="7.6" fill="#9dbf29"/><rect x="324.9" y="213.0" width="11.6" height="7.6" fill="#8ec235"/><rect x="336.0" y="213.0" width="11.6" height="7.6" fill="#8dc235"/><rect x="347.1" y="213.0" width="11.6" height="7.6" fill="#87c33a"/><rect x="358.2" y="213.0" width="11.6" height="7.6" fill="#86c33a"/><rect x="369.3" y="213.0" width="11.6" height="7.6" fill="#85c33b"/><rect x="380.4" y="213.0" width="58.5" height="7.6" fill="#84c33c"/><rect x="77.6" y="220.1" width="3.6" height="7.6" fill="#ffc120"/><rect x="80.7" y="220.1" width="11.6" height="7.6" fill="#ffc121"/><rect x="91.8" y="220.1" width="11.6" height="7.6" fill="#ffc022"/><rect x="102.9" y="220.1" width="11.6" height="7.6" fill="#ffbf22"/><rect x="114.0" y="220.1" width="11.6" height="7.6" fill="#feb928"/><rect x="125.1" y="220.1" width="11.6" height="7.6" fill="#fdb62b"/><rect x="136.2" y="220.1" width="11.6" height="7.6" fill="#fab527"/><rect x="147.3" y="220.1" width="11.6" height="7.6" fill="#f8b523"/><rect x="158.4" y="220.1" width="11.6" height="7.6" fill="#f1b811"/><rect x="169.5" y="220.1" width="22.7" height="7.6" fill="#f1b810"/><rect x="191.7" y="220.1" width="11.6" height="7.6" fill="#e4b90c"/><rect x="202.8" y="220.1" width="11.6" height="7.6" fill="#e3b90c"/><rect x="213.9" y="220.1" width="11.6" height="7.6" fill="#d0bb0f"/><rect x="225.0" y="220.1" width="22.7" height="7.6" fill="#cfbb0f"/><rect x="247.2" y="220.1" width="22.7" height="7.6" fill="#b5bd1b"/><rect x="269.4" y="220.1" width="11.6" height="7.6" fill="#b5bd1c"/><rect x="280.5" y="220.1" width="22.7" height="7.6" fill="#b4bd1c"/><rect x="302.7" y="220.1" width="11.6" height="7.6" fill="#a9be21"/><rect x="313.8" y="220.1" width="11.6" height="7.6" fill="#a5be23"/><rect x="324.9" y="220.1" width="11.6" height="7.6" fill="#9ebf28"/><rect x="336.0" y="220.1" width="11.6" height="7.6" fill="#97c02e"/><rect x="347.1" y="220.1" width="11.6" height="7.6" fill="#91c132"/><rect x="358.2" y="220.1" width="11.6" height="7.6" fill="#8fc234"/><rect x="369.3" y="220.1" width="11.6" height="7.6" fill="#8dc235"/><rect x="380.4" y="220.1" width="11.6" height="7.6" fill="#8cc236"/><rect x="391.5" y="220.1" width="47.4" height="7.6" fill="#8ac237"/><rect x="77.6" y="227.2" width="3.6" height="7.6" fill="#ffc71c"/><rect x="80.7" y="227.2" width="11.6" height="7.6" fill="#ffc61d"/><rect x="91.8" y="227.2" width="11.6" height="7.6" fill="#ffc51e"/><rect x="102.9" y="227.2" width="11.6" height="7.6" fill="#ffc41f"/><rect x="114.0" y="227.2" width="11.6" height="7.6" fill="#ffc220"/><rect x="125.1" y="227.2" width="11.6" height="7.6" fill="#ffbd24"/><rect x="136.2" y="227.2" width="11.6" height="7.6" fill="#fcb42d"/><rect x="147.3" y="227.2" width="11.6" height="7.6" fill="#fbb429"/><rect x="158.4" y="227.2" width="11.6" height="7.6" fill="#f5b61c"/><rect x="169.5" y="227.2" width="22.7" height="7.6" fill="#f5b61b"/><rect x="191.7" y="227.2" width="22.7" height="7.6" fill="#f1b810"/><rect x="213.9" y="227.2" width="22.7" height="7.6" fill="#e3b90c"/><rect x="236.1" y="227.2" width="11.6" height="7.6" fill="#e2b90b"/><rect x="247.2" y="227.2" width="22.7" height="7.6" fill="#cebb10"/><rect x="269.4" y="227.2" width="22.7" height="7.6" fill="#cdbb10"/><rect x="291.6" y="227.2" width="11.6" height="7.6" fill="#c7bb13"/><rect x="302.7" y="227.2" width="11.6" height="7.6" fill="#b8bd1a"/><rect x="313.8" y="227.2" width="11.6" height="7.6" fill="#b0bd1e"/><rect x="324.9" y="227.2" width="11.6" height="7.6" fill="#a8be21"/><rect x="336.0" y="227.2" width="11.6" height="7.6" fill="#a1bf26"/><rect x="347.1" y="227.2" width="11.6" height="7.6" fill="#9cc02a"/><rect x="358.2" y="227.2" width="11.6" height="7.6" fill="#9ac02c"/><rect x="369.3" y="227.2" width="11.6" height="7.6" fill="#98c02d"/><rect x="380.4" y="227.2" width="11.6" height="7.6" fill="#96c02e"/><rect x="391.5" y="227.2" width="47.4" height="7.6" fill="#94c130"/><rect x="77.6" y="234.3" width="3.6" height="7.6" fill="#ffcc18"/><rect x="80.7" y="234.3" width="11.6" height="7.6" fill="#ffcb19"/><rect x="91.8" y="234.3" width="11.6" height="7.6" fill="#ffc91a"/><rect x="102.9" y="234.3" width="11.6" height="7.6" fill="#ffc71c"/><rect x="114.0" y="234.3" width="11.6" height="7.6" fill="#ffc61d"/><rect x="125.1" y="234.3" width="11.6" height="7.6" fill="#ffc320"/><rect x="136.2" y="234.3" width="11.6" height="7.6" fill="#fdb829"/><rect x="147.3" y="234.3" width="11.6" height="7.6" fill="#fcb52c"/><rect x="158.4" y="234.3" width="33.8" height="7.6" fill="#f9b525"/><rect x="191.7" y="234.3" width="22.7" height="7.6" fill="#f5b61a"/><rect x="213.9" y="234.3" width="33.8" height="7.6" fill="#f0b80f"/><rect x="247.2" y="234.3" width="11.6" height="7.6" fill="#e2b90b"/><rect x="258.3" y="234.3" width="22.7" height="7.6" fill="#e1b90b"/><rect x="280.5" y="234.3" width="11.6" height="7.6" fill="#deba0b"/><rect x="291.6" y="234.3" width="11.6" height="7.6" fill="#d0bb0f"/><rect x="302.7" y="234.3" width="11.6" height="7.6" fill="#c2bc15"/><rect x="313.8" y="234.3" width="11.6" height="7.6" fill="#bbbc19"/><rect x="324.9" y="234.3" width="11.6" height="7.6" fill="#b4bd1c"/><rect x="336.0" y="234.3" width="11.6" height="7.6" fill="#adbd1f"/><rect x="347.1" y="234.3" width="11.6" height="7.6" fill="#a7be22"/><rect x="358.2" y="234.3" width="11.6" height="7.6" fill="#a5be23"/><rect x="369.3" y="234.3" width="11.6" height="7.6" fill="#a3be25"/><rect x="380.4" y="234.3" width="11.6" height="7.6" fill="#a1bf26"/><rect x="391.5" y="234.3" width="47.4" height="7.6" fill="#9fbf27"/><rect x="77.6" y="241.4" width="3.6" height="7.6" fill="#ffd214"/><rect x="80.7" y="241.4" width="11.6" height="7.6" fill="#ffd115"/><rect x="91.8" y="241.4" width="11.6" height="7.6" fill="#ffce17"/><rect x="102.9" y="241.4" width="11.6" height="7.6" fill="#ffcc19"/><rect x="114.0" y="241.4" width="11.6" height="7.6" fill="#ffc91b"/><rect x="125.1" y="241.4" width="11.6" height="7.6" fill="#ffc51d"/><rect x="136.2" y="241.4" width="11.6" height="7.6" fill="#ffbf22"/><rect x="147.3" y="241.4" width="11.6" height="7.6" fill="#fdb928"/><rect x="158.4" y="241.4" width="11.6" height="7.6" fill="#fbb42b"/><rect x="169.5" y="241.4" width="22.7" height="7.6" fill="#fbb42a"/><rect x="191.7" y="241.4" width="11.6" height="7.6" fill="#f9b525"/><rect x="202.8" y="241.4" width="11.6" height="7.6" fill="#f9b524"/><rect x="213.9" y="241.4" width="11.6" height="7.6" fill="#f5b61a"/><rect x="225.0" y="241.4" width="22.7" height="7.6" fill="#f4b719"/><rect x="247.2" y="241.4" width="22.7" height="7.6" fill="#f0b80e"/><rect x="269.4" y="241.4" width="11.6" height="7.6" fill="#ebb80d"/><rect x="280.5" y="241.4" width="11.6" height="7.6" fill="#e3b90c"/><rect x="291.6" y="241.4" width="11.6" height="7.6" fill="#dbba0a"/><rect x="302.7" y="241.4" width="11.6" height="7.6" fill="#d0bb0f"/><rect x="313.8" y="241.4" width="11.6" height="7.6" fill="#c9bb12"/><rect x="324.9" y="241.4" width="11.6" height="7.6" fill="#c1bc16"/><rect x="336.0" y="241.4" width="11.6" height="7.6" fill="#babc19"/><rect x="347.1" y="241.4" width="11.6" height="7.6" fill="#b4bd1c"/><rect x="358.2" y="241.4" width="11.6" height="7.6" fill="#b2bd1d"/><rect x="369.3" y="241.4" width="11.6" height="7.6" fill="#b0bd1e"/><rect x="380.4" y="241.4" width="11.6" height="7.6" fill="#adbd1f"/><rect x="391.5" y="241.4" width="47.4" height="7.6" fill="#abbe20"/><rect x="77.6" y="248.5" width="3.6" height="7.6" fill="#fed812"/><rect x="80.7" y="248.5" width="11.6" height="7.6" fill="#fed612"/><rect x="91.8" y="248.5" width="11.6" height="7.6" fill="#ffd314"/><rect x="102.9" y="248.5" width="11.6" height="7.6" fill="#ffd016"/><rect x="114.0" y="248.5" width="11.6" height="7.6" fill="#ffcc18"/><rect x="125.1" y="248.5" width="11.6" height="7.6" fill="#ffc81b"/><rect x="136.2" y="248.5" width="11.6" height="7.6" fill="#ffc41f"/><rect x="147.3" y="248.5" width="11.6" height="7.6" fill="#ffbf22"/><rect x="158.4" y="248.5" width="11.6" height="7.6" fill="#fdb62b"/><rect x="169.5" y="248.5" width="22.7" height="7.6" fill="#fcb52c"/><rect x="191.7" y="248.5" width="22.7" height="7.6" fill="#fbb42a"/><rect x="213.9" y="248.5" width="11.6" height="7.6" fill="#f9b524"/><rect x="225.0" y="248.5" width="11.6" height="7.6" fill="#f8b524"/><rect x="236.1" y="248.5" width="11.6" height="7.6" fill="#f8b521"/><rect x="247.2" y="248.5" width="11.6" height="7.6" fill="#f4b719"/><rect x="258.3" y="248.5" width="11.6" height="7.6" fill="#f3b717"/><rect x="269.4" y="248.5" width="11.6" height="7.6" fill="#f1b810"/><rect x="280.5" y="248.5" width="11.6" height="7.6" fill="#ebb80d"/><rect x="291.6" y="248.5" width="11.6" height="7.6" fill="#e3b90c"/><rect x="302.7" y="248.5" width="11.6" height="7.6" fill="#ddba0b"/><rect x="313.8" y="248.5" width="11.6" height="7.6" fill="#d7ba0b"/><rect x="324.9" y="248.5" width="11.6" height="7.6" fill="#d0bb0f"/><rect x="336.0" y="248.5" width="11.6" height="7.6" fill="#c8bb13"/><rect x="347.1" y="248.5" width="11.6" height="7.6" fill="#c1bc16"/><rect x="358.2" y="248.5" width="11.6" height="7.6" fill="#bfbc17"/><rect x="369.3" y="248.5" width="11.6" height="7.6" fill="#bcbc18"/><rect x="380.4" y="248.5" width="11.6" height="7.6" fill="#babc19"/><rect x="391.5" y="248.5" width="22.7" height="7.6" fill="#b8bd1a"/><rect x="413.7" y="248.5" width="25.2" height="7.6" fill="#b7bd1a"/><rect x="77.6" y="255.6" width="3.6" height="7.6" fill="#fdde0f"/><rect x="80.7" y="255.6" width="11.6" height="7.6" fill="#fddc10"/><rect x="91.8" y="255.6" width="11.6" height="7.6" fill="#fed812"/><rect x="102.9" y="255.6" width="11.6" height="7.6" fill="#ffd413"/><rect x="114.0" y="255.6" width="11.6" height="7.6" fill="#ffd016"/><rect x="125.1" y="255.6" width="11.6" height="7.6" fill="#ffcb19"/><rect x="136.2" y="255.6" width="11.6" height="7.6" fill="#ffc61d"/><rect x="147.3" y="255.6" width="11.6" height="7.6" fill="#ffc121"/><rect x="158.4" y="255.6" width="11.6" height="7.6" fill="#feb928"/><rect x="169.5" y="255.6" width="22.7" height="7.6" fill="#fdb829"/><rect x="191.7" y="255.6" width="22.7" height="7.6" fill="#fcb52c"/><rect x="213.9" y="255.6" width="22.7" height="7.6" fill="#fbb429"/><rect x="236.1" y="255.6" width="11.6" height="7.6" fill="#f9b526"/><rect x="247.2" y="255.6" width="11.6" height="7.6" fill="#f8b522"/><rect x="258.3" y="255.6" width="11.6" height="7.6" fill="#f6b61d"/><rect x="269.4" y="255.6" width="11.6" height="7.6" fill="#f3b717"/><rect x="280.5" y="255.6" width="11.6" height="7.6" fill="#f1b810"/><rect x="291.6" y="255.6" width="11.6" height="7.6" fill="#ecb80d"/><rect x="302.7" y="255.6" width="11.6" height="7.6" fill="#e6b90c"/><rect x="313.8" y="255.6" width="11.6" height="7.6" fill="#e1b90b"/><rect x="324.9" y="255.6" width="11.6" height="7.6" fill="#dcba0a"/><rect x="336.0" y="255.6" width="11.6" height="7.6" fill="#d5ba0c"/><rect x="347.1" y="255.6" width="11.6" height="7.6" fill="#cebb0f"/><rect x="358.2" y="255.6" width="11.6" height="7.6" fill="#cbbb11"/><rect x="369.3" y="255.6" width="11.6" height="7.6" fill="#c8bb12"/><rect x="380.4" y="255.6" width="11.6" height="7.6" fill="#c5bc14"/><rect x="391.5" y="255.6" width="11.6" height="7.6" fill="#c2bc15"/><rect x="402.6" y="255.6" width="11.6" height="7.6" fill="#c1bc16"/><rect x="413.7" y="255.6" width="11.6" height="7.6" fill="#c0bc16"/><rect x="424.8" y="255.6" width="14.1" height="7.6" fill="#bfbc17"/><rect x="77.6" y="262.7" width="3.6" height="7.6" fill="#fce30d"/><rect x="80.7" y="262.7" width="11.6" height="7.6" fill="#fce00e"/><rect x="91.8" y="262.7" width="11.6" height="7.6" fill="#fddb10"/><rect x="102.9" y="262.7" width="11.6" height="7.6" fill="#fed712"/><rect x="114.0" y="262.7" width="11.6" height="7.6" fill="#ffd214"/><rect x="125.1" y="262.7" width="11.6" height="7.6" fill="#ffcd17"/><rect x="136.2" y="262.7" width="11.6" height="7.6" fill="#ffc81b"/><rect x="147.3" y="262.7" width="11.6" height="7.6" fill="#ffc31f"/><rect x="158.4" y="262.7" width="11.6" height="7.6" fill="#ffbe23"/><rect x="169.5" y="262.7" width="11.6" height="7.6" fill="#febb26"/><rect x="180.6" y="262.7" width="11.6" height="7.6" fill="#feb928"/><rect x="191.7" y="262.7" width="11.6" height="7.6" fill="#fdb829"/><rect x="202.8" y="262.7" width="11.6" height="7.6" fill="#fdb72a"/><rect x="213.9" y="262.7" width="11.6" height="7.6" fill="#fcb52c"/><rect x="225.0" y="262.7" width="11.6" height="7.6" fill="#fcb42d"/><rect x="236.1" y="262.7" width="11.6" height="7.6" fill="#fbb42a"/><rect x="247.2" y="262.7" width="11.6" height="7.6" fill="#f9b527"/><rect x="258.3" y="262.7" width="11.6" height="7.6" fill="#f8b523"/><rect x="269.4" y="262.7" width="11.6" height="7.6" fill="#f6b61d"/><rect x="280.5" y="262.7" width="11.6" height="7.6" fill="#f4b718"/><rect x="291.6" y="262.7" width="11.6" height="7.6" fill="#f2b713"/><rect x="302.7" y="262.7" width="11.6" height="7.6" fill="#efb80e"/><rect x="313.8" y="262.7" width="11.6" height="7.6" fill="#eab90d"/><rect x="324.9" y="262.7" width="11.6" height="7.6" fill="#e5b90c"/><rect x="336.0" y="262.7" width="11.6" height="7.6" fill="#dfba0b"/><rect x="347.1" y="262.7" width="11.6" height="7.6" fill="#dbba0a"/><rect x="358.2" y="262.7" width="11.6" height="7.6" fill="#d8ba0b"/><rect x="369.3" y="262.7" width="11.6" height="7.6" fill="#d4ba0d"/><rect x="380.4" y="262.7" width="11.6" height="7.6" fill="#d0bb0f"/><rect x="391.5" y="262.7" width="11.6" height="7.6" fill="#cdbb10"/><rect x="402.6" y="262.7" width="11.6" height="7.6" fill="#cbbb11"/><rect x="413.7" y="262.7" width="11.6" height="7.6" fill="#c9bb12"/><rect x="424.8" y="262.7" width="11.6" height="7.6" fill="#c8bb13"/><rect x="435.9" y="262.7" width="3.0" height="7.6" fill="#c7bb13"/><rect x="77.6" y="269.8" width="3.6" height="7.6" fill="#fbe70b"/><rect x="80.7" y="269.8" width="11.6" height="7.6" fill="#fbe40d"/><rect x="91.8" y="269.8" width="11.6" height="7.6" fill="#fcdf0f"/><rect x="102.9" y="269.8" width="11.6" height="7.6" fill="#fdda11"/><rect x="114.0" y="269.8" width="11.6" height="7.6" fill="#fed513"/><rect x="125.1" y="269.8" width="11.6" height="7.6" fill="#ffd016"/><rect x="136.2" y="269.8" width="11.6" height="7.6" fill="#ffca1a"/><rect x="147.3" y="269.8" width="11.6" height="7.6" fill="#ffc51e"/><rect x="158.4" y="269.8" width="11.6" height="7.6" fill="#ffc022"/><rect x="169.5" y="269.8" width="11.6" height="7.6" fill="#febc25"/><rect x="180.6" y="269.8" width="11.6" height="7.6" fill="#febb26"/><rect x="191.7" y="269.8" width="11.6" height="7.6" fill="#feb928"/><rect x="202.8" y="269.8" width="11.6" height="7.6" fill="#fdb829"/><rect x="213.9" y="269.8" width="11.6" height="7.6" fill="#fdb72a"/><rect x="225.0" y="269.8" width="11.6" height="7.6" fill="#fcb52c"/><rect x="236.1" y="269.8" width="11.6" height="7.6" fill="#fcb42c"/><rect x="247.2" y="269.8" width="11.6" height="7.6" fill="#fab529"/><rect x="258.3" y="269.8" width="11.6" height="7.6" fill="#f9b525"/><rect x="269.4" y="269.8" width="11.6" height="7.6" fill="#f7b621"/><rect x="280.5" y="269.8" width="11.6" height="7.6" fill="#f6b61d"/><rect x="291.6" y="269.8" width="11.6" height="7.6" fill="#f4b719"/><rect x="302.7" y="269.8" width="11.6" height="7.6" fill="#f2b714"/><rect x="313.8" y="269.8" width="11.6" height="7.6" fill="#f0b80f"/><rect x="324.9" y="269.8" width="11.6" height="7.6" fill="#ecb80d"/><rect x="336.0" y="269.8" width="11.6" height="7.6" fill="#e7b90c"/><rect x="347.1" y="269.8" width="11.6" height="7.6" fill="#e2b90b"/><rect x="358.2" y="269.8" width="11.6" height="7.6" fill="#e0b90b"/><rect x="369.3" y="269.8" width="11.6" height="7.6" fill="#ddba0b"/><rect x="380.4" y="269.8" width="11.6" height="7.6" fill="#dbba0a"/><rect x="391.5" y="269.8" width="11.6" height="7.6" fill="#d7ba0b"/><rect x="402.6" y="269.8" width="11.6" height="7.6" fill="#d5ba0c"/><rect x="413.7" y="269.8" width="11.6" height="7.6" fill="#d2bb0e"/><rect x="424.8" y="269.8" width="11.6" height="7.6" fill="#d0bb0f"/><rect x="435.9" y="269.8" width="3.0" height="7.6" fill="#cfbb0f"/><rect x="77.6" y="276.9" width="3.6" height="7.6" fill="#faec0a"/><rect x="80.7" y="276.9" width="11.6" height="7.6" fill="#fae90b"/><rect x="91.8" y="276.9" width="11.6" height="7.6" fill="#fce30d"/><rect x="102.9" y="276.9" width="11.6" height="7.6" fill="#fddd10"/><rect x="114.0" y="276.9" width="11.6" height="7.6" fill="#fed812"/><rect x="125.1" y="276.9" width="11.6" height="7.6" fill="#ffd214"/><rect x="136.2" y="276.9" width="11.6" height="7.6" fill="#ffcc18"/><rect x="147.3" y="276.9" width="11.6" height="7.6" fill="#ffc71c"/><rect x="158.4" y="276.9" width="11.6" height="7.6" fill="#ffc121"/><rect x="169.5" y="276.9" width="11.6" height="7.6" fill="#ffbd24"/><rect x="180.6" y="276.9" width="11.6" height="7.6" fill="#febc25"/><rect x="191.7" y="276.9" width="11.6" height="7.6" fill="#febb26"/><rect x="202.8" y="276.9" width="11.6" height="7.6" fill="#feb928"/><rect x="213.9" y="276.9" width="11.6" height="7.6" fill="#fdb829"/><rect x="225.0" y="276.9" width="11.6" height="7.6" fill="#fdb62b"/><rect x="236.1" y="276.9" width="11.6" height="7.6" fill="#fcb42d"/><rect x="247.2" y="276.9" width="11.6" height="7.6" fill="#fbb42b"/><rect x="258.3" y="276.9" width="11.6" height="7.6" fill="#fab528"/><rect x="269.4" y="276.9" width="11.6" height="7.6" fill="#f9b524"/><rect x="280.5" y="276.9" width="11.6" height="7.6" fill="#f7b621"/><rect x="291.6" y="276.9" width="11.6" height="7.6" fill="#f6b61e"/><rect x="302.7" y="276.9" width="11.6" height="7.6" fill="#f5b61a"/><rect x="313.8" y="276.9" width="11.6" height="7.6" fill="#f3b715"/><rect x="324.9" y="276.9" width="11.6" height="7.6" fill="#f1b810"/><rect x="336.0" y="276.9" width="11.6" height="7.6" fill="#edb80d"/><rect x="347.1" y="276.9" width="11.6" height="7.6" fill="#e8b90d"/><rect x="358.2" y="276.9" width="11.6" height="7.6" fill="#e6b90c"/><rect x="369.3" y="276.9" width="11.6" height="7.6" fill="#e3b90c"/><rect x="380.4" y="276.9" width="11.6" height="7.6" fill="#e1b90b"/><rect x="391.5" y="276.9" width="11.6" height="7.6" fill="#deba0b"/><rect x="402.6" y="276.9" width="11.6" height="7.6" fill="#ddba0a"/><rect x="413.7" y="276.9" width="11.6" height="7.6" fill="#dbba0a"/><rect x="424.8" y="276.9" width="11.6" height="7.6" fill="#d8ba0b"/><rect x="435.9" y="276.9" width="3.0" height="7.6" fill="#d7ba0c"/><rect x="77.6" y="284.0" width="3.6" height="7.6" fill="#faed0a"/><rect x="80.7" y="284.0" width="11.6" height="7.6" fill="#faeb0a"/><rect x="91.8" y="284.0" width="11.6" height="7.6" fill="#fbe50c"/><rect x="102.9" y="284.0" width="11.6" height="7.6" fill="#fce00f"/><rect x="114.0" y="284.0" width="11.6" height="7.6" fill="#fdda11"/><rect x="125.1" y="284.0" width="11.6" height="7.6" fill="#ffd413"/><rect x="136.2" y="284.0" width="11.6" height="7.6" fill="#ffce17"/><rect x="147.3" y="284.0" width="11.6" height="7.6" fill="#ffc91b"/><rect x="158.4" y="284.0" width="11.6" height="7.6" fill="#ffc31f"/><rect x="169.5" y="284.0" width="11.6" height="7.6" fill="#ffbf22"/><rect x="180.6" y="284.0" width="11.6" height="7.6" fill="#ffbd24"/><rect x="191.7" y="284.0" width="11.6" height="7.6" fill="#febc25"/><rect x="202.8" y="284.0" width="11.6" height="7.6" fill="#feba27"/><rect x="213.9" y="284.0" width="11.6" height="7.6" fill="#fdb928"/><rect x="225.0" y="284.0" width="11.6" height="7.6" fill="#fdb72a"/><rect x="236.1" y="284.0" width="11.6" height="7.6" fill="#fcb62b"/><rect x="247.2" y="284.0" width="11.6" height="7.6" fill="#fcb42d"/><rect x="258.3" y="284.0" width="11.6" height="7.6" fill="#fbb42a"/><rect x="269.4" y="284.0" width="11.6" height="7.6" fill="#fab528"/><rect x="280.5" y="284.0" width="11.6" height="7.6" fill="#f9b525"/><rect x="291.6" y="284.0" width="11.6" height="7.6" fill="#f8b522"/><rect x="302.7" y="284.0" width="11.6" height="7.6" fill="#f7b61f"/><rect x="313.8" y="284.0" width="11.6" height="7.6" fill="#f5b61a"/><rect x="324.9" y="284.0" width="11.6" height="7.6" fill="#f3b716"/><rect x="336.0" y="284.0" width="11.6" height="7.6" fill="#f1b811"/><rect x="347.1" y="284.0" width="11.6" height="7.6" fill="#efb80e"/><rect x="358.2" y="284.0" width="11.6" height="7.6" fill="#ecb80d"/><rect x="369.3" y="284.0" width="11.6" height="7.6" fill="#eab90d"/><rect x="380.4" y="284.0" width="11.6" height="7.6" fill="#e7b90c"/><rect x="391.5" y="284.0" width="11.6" height="7.6" fill="#e5b90c"/><rect x="402.6" y="284.0" width="11.6" height="7.6" fill="#e2b90c"/><rect x="413.7" y="284.0" width="11.6" height="7.6" fill="#e0b90b"/><rect x="424.8" y="284.0" width="11.6" height="7.6" fill="#deba0b"/><rect x="435.9" y="284.0" width="3.0" height="7.6" fill="#ddba0b"/><rect x="77.6" y="291.1" width="3.6" height="7.6" fill="#f9ef0b"/><rect x="80.7" y="291.1" width="11.6" height="7.6" fill="#faed0a"/><rect x="91.8" y="291.1" width="11.6" height="7.6" fill="#fbe70b"/><rect x="102.9" y="291.1" width="11.6" height="7.6" fill="#fce10e"/><rect x="114.0" y="291.1" width="11.6" height="7.6" fill="#fddc10"/><rect x="125.1" y="291.1" width="11.6" height="7.6" fill="#fed613"/><rect x="136.2" y="291.1" width="11.6" height="7.6" fill="#ffd016"/><rect x="147.3" y="291.1" width="11.6" height="7.6" fill="#ffca1a"/><rect x="158.4" y="291.1" width="11.6" height="7.6" fill="#ffc51e"/><rect x="169.5" y="291.1" width="11.6" height="7.6" fill="#ffc121"/><rect x="180.6" y="291.1" width="11.6" height="7.6" fill="#ffbf22"/><rect x="191.7" y="291.1" width="11.6" height="7.6" fill="#ffbd24"/><rect x="202.8" y="291.1" width="11.6" height="7.6" fill="#febb26"/><rect x="213.9" y="291.1" width="11.6" height="7.6" fill="#feba27"/><rect x="225.0" y="291.1" width="11.6" height="7.6" fill="#fdb829"/><rect x="236.1" y="291.1" width="11.6" height="7.6" fill="#fdb72a"/><rect x="247.2" y="291.1" width="11.6" height="7.6" fill="#fcb52c"/><rect x="258.3" y="291.1" width="11.6" height="7.6" fill="#fcb42d"/><rect x="269.4" y="291.1" width="11.6" height="7.6" fill="#fbb42b"/><rect x="280.5" y="291.1" width="11.6" height="7.6" fill="#fab529"/><rect x="291.6" y="291.1" width="11.6" height="7.6" fill="#fab527"/><rect x="302.7" y="291.1" width="11.6" height="7.6" fill="#f9b524"/><rect x="313.8" y="291.1" width="11.6" height="7.6" fill="#f7b620"/><rect x="324.9" y="291.1" width="11.6" height="7.6" fill="#f5b61c"/><rect x="336.0" y="291.1" width="11.6" height="7.6" fill="#f4b717"/><rect x="347.1" y="291.1" width="11.6" height="7.6" fill="#f2b713"/><rect x="358.2" y="291.1" width="11.6" height="7.6" fill="#f1b811"/><rect x="369.3" y="291.1" width="11.6" height="7.6" fill="#f0b80e"/><rect x="380.4" y="291.1" width="11.6" height="7.6" fill="#edb80e"/><rect x="391.5" y="291.1" width="11.6" height="7.6" fill="#ebb80d"/><rect x="402.6" y="291.1" width="11.6" height="7.6" fill="#e8b90d"/><rect x="413.7" y="291.1" width="11.6" height="7.6" fill="#e5b90c"/><rect x="424.8" y="291.1" width="11.6" height="7.6" fill="#e3b90c"/><rect x="435.9" y="291.1" width="3.0" height="7.6" fill="#e1b90b"/><rect x="77.6" y="298.2" width="3.6" height="7.6" fill="#f9f00b"/><rect x="80.7" y="298.2" width="11.6" height="7.6" fill="#faee0b"/><rect x="91.8" y="298.2" width="11.6" height="7.6" fill="#fae90b"/><rect x="102.9" y="298.2" width="11.6" height="7.6" fill="#fce30d"/><rect x="114.0" y="298.2" width="11.6" height="7.6" fill="#fddd10"/><rect x="125.1" y="298.2" width="11.6" height="7.6" fill="#fed712"/><rect x="136.2" y="298.2" width="11.6" height="7.6" fill="#ffd114"/><rect x="147.3" y="298.2" width="11.6" height="7.6" fill="#ffcc19"/><rect x="158.4" y="298.2" width="11.6" height="7.6" fill="#ffc61d"/><rect x="169.5" y="298.2" width="11.6" height="7.6" fill="#ffc220"/><rect x="180.6" y="298.2" width="11.6" height="7.6" fill="#ffc021"/><rect x="191.7" y="298.2" width="11.6" height="7.6" fill="#ffbe23"/><rect x="202.8" y="298.2" width="11.6" height="7.6" fill="#ffbc25"/><rect x="213.9" y="298.2" width="11.6" height="7.6" fill="#febb26"/><rect x="225.0" y="298.2" width="11.6" height="7.6" fill="#feb928"/><rect x="236.1" y="298.2" width="11.6" height="7.6" fill="#fdb829"/><rect x="247.2" y="298.2" width="11.6" height="7.6" fill="#fdb62b"/><rect x="258.3" y="298.2" width="11.6" height="7.6" fill="#fcb52c"/><rect x="269.4" y="298.2" width="11.6" height="7.6" fill="#fcb42d"/><rect x="280.5" y="298.2" width="11.6" height="7.6" fill="#fcb42c"/><rect x="291.6" y="298.2" width="11.6" height="7.6" fill="#fbb42b"/><rect x="302.7" y="298.2" width="11.6" height="7.6" fill="#fab529"/><rect x="313.8" y="298.2" width="11.6" height="7.6" fill="#f9b525"/><rect x="324.9" y="298.2" width="11.6" height="7.6" fill="#f7b621"/><rect x="336.0" y="298.2" width="11.6" height="7.6" fill="#f6b61d"/><rect x="347.1" y="298.2" width="11.6" height="7.6" fill="#f4b719"/><rect x="358.2" y="298.2" width="11.6" height="7.6" fill="#f3b716"/><rect x="369.3" y="298.2" width="11.6" height="7.6" fill="#f2b713"/><rect x="380.4" y="298.2" width="11.6" height="7.6" fill="#f1b811"/><rect x="391.5" y="298.2" width="11.6" height="7.6" fill="#f0b80e"/><rect x="402.6" y="298.2" width="11.6" height="7.6" fill="#edb80d"/><rect x="413.7" y="298.2" width="11.6" height="7.6" fill="#eab90d"/><rect x="424.8" y="298.2" width="11.6" height="7.6" fill="#e7b90c"/><rect x="435.9" y="298.2" width="3.0" height="7.6" fill="#e5b90c"/><rect x="77.6" y="305.3" width="3.6" height="7.6" fill="#f9f10b"/><rect x="80.7" y="305.3" width="11.6" height="7.6" fill="#faef0b"/><rect x="91.8" y="305.3" width="11.6" height="7.6" fill="#faea0a"/><rect x="102.9" y="305.3" width="11.6" height="7.6" fill="#fbe40d"/><rect x="114.0" y="305.3" width="11.6" height="7.6" fill="#fdde0f"/><rect x="125.1" y="305.3" width="11.6" height="7.6" fill="#fed812"/><rect x="136.2" y="305.3" width="11.6" height="7.6" fill="#ffd314"/><rect x="147.3" y="305.3" width="11.6" height="7.6" fill="#ffcd18"/><rect x="158.4" y="305.3" width="11.6" height="7.6" fill="#ffc81c"/><rect x="169.5" y="305.3" width="11.6" height="7.6" fill="#ffc41f"/><rect x="180.6" y="305.3" width="11.6" height="7.6" fill="#ffc220"/><rect x="191.7" y="305.3" width="11.6" height="7.6" fill="#ffc022"/><rect x="202.8" y="305.3" width="11.6" height="7.6" fill="#ffbe23"/><rect x="213.9" y="305.3" width="11.6" height="7.6" fill="#febc25"/><rect x="225.0" y="305.3" width="11.6" height="7.6" fill="#feba27"/><rect x="236.1" y="305.3" width="11.6" height="7.6" fill="#fdb928"/><rect x="247.2" y="305.3" width="11.6" height="7.6" fill="#fdb72a"/><rect x="258.3" y="305.3" width="11.6" height="7.6" fill="#fcb62b"/><rect x="269.4" y="305.3" width="11.6" height="7.6" fill="#fcb52c"/><rect x="280.5" y="305.3" width="11.6" height="7.6" fill="#fcb42d"/><rect x="291.6" y="305.3" width="11.6" height="7.6" fill="#fcb42c"/><rect x="302.7" y="305.3" width="11.6" height="7.6" fill="#fbb42a"/><rect x="313.8" y="305.3" width="11.6" height="7.6" fill="#f9b526"/><rect x="324.9" y="305.3" width="11.6" height="7.6" fill="#f8b522"/><rect x="336.0" y="305.3" width="11.6" height="7.6" fill="#f6b61e"/><rect x="347.1" y="305.3" width="11.6" height="7.6" fill="#f5b61a"/><rect x="358.2" y="305.3" width="11.6" height="7.6" fill="#f4b717"/><rect x="369.3" y="305.3" width="11.6" height="7.6" fill="#f3b715"/><rect x="380.4" y="305.3" width="11.6" height="7.6" fill="#f1b812"/><rect x="391.5" y="305.3" width="11.6" height="7.6" fill="#f0b80f"/><rect x="402.6" y="305.3" width="11.6" height="7.6" fill="#eeb80e"/><rect x="413.7" y="305.3" width="11.6" height="7.6" fill="#ebb80d"/><rect x="424.8" y="305.3" width="11.6" height="7.6" fill="#e8b90d"/><rect x="435.9" y="305.3" width="3.0" height="7.6" fill="#e6b90c"/><rect x="77.6" y="312.4" width="3.6" height="7.6" fill="#f9f20b"/><rect x="80.7" y="312.4" width="11.6" height="7.6" fill="#f9ef0b"/><rect x="91.8" y="312.4" width="11.6" height="7.6" fill="#faeb0a"/><rect x="102.9" y="312.4" width="11.6" height="7.6" fill="#fbe50c"/><rect x="114.0" y="312.4" width="11.6" height="7.6" fill="#fcdf0f"/><rect x="125.1" y="312.4" width="11.6" height="7.6" fill="#fed911"/><rect x="136.2" y="312.4" width="11.6" height="7.6" fill="#ffd413"/><rect x="147.3" y="312.4" width="11.6" height="7.6" fill="#ffcf16"/><rect x="158.4" y="312.4" width="11.6" height="7.6" fill="#ffca1a"/><rect x="169.5" y="312.4" width="11.6" height="7.6" fill="#ffc61d"/><rect x="180.6" y="312.4" width="11.6" height="7.6" fill="#ffc31f"/><rect x="191.7" y="312.4" width="11.6" height="7.6" fill="#ffc121"/><rect x="202.8" y="312.4" width="11.6" height="7.6" fill="#ffbf22"/><rect x="213.9" y="312.4" width="11.6" height="7.6" fill="#ffbd24"/><rect x="225.0" y="312.4" width="11.6" height="7.6" fill="#febb26"/><rect x="236.1" y="312.4" width="11.6" height="7.6" fill="#feb928"/><rect x="247.2" y="312.4" width="11.6" height="7.6" fill="#fdb829"/><rect x="258.3" y="312.4" width="11.6" height="7.6" fill="#fdb62b"/><rect x="269.4" y="312.4" width="22.7" height="7.6" fill="#fcb52c"/><rect x="291.6" y="312.4" width="11.6" height="7.6" fill="#fcb42d"/><rect x="302.7" y="312.4" width="11.6" height="7.6" fill="#fbb42b"/><rect x="313.8" y="312.4" width="11.6" height="7.6" fill="#fab527"/><rect x="324.9" y="312.4" width="11.6" height="7.6" fill="#f8b523"/><rect x="336.0" y="312.4" width="11.6" height="7.6" fill="#f7b620"/><rect x="347.1" y="312.4" width="11.6" height="7.6" fill="#f5b61c"/><rect x="358.2" y="312.4" width="11.6" height="7.6" fill="#f4b719"/><rect x="369.3" y="312.4" width="11.6" height="7.6" fill="#f3b716"/><rect x="380.4" y="312.4" width="11.6" height="7.6" fill="#f2b713"/><rect x="391.5" y="312.4" width="11.6" height="7.6" fill="#f1b810"/><rect x="402.6" y="312.4" width="11.6" height="7.6" fill="#efb80e"/><rect x="413.7" y="312.4" width="11.6" height="7.6" fill="#ecb80d"/><rect x="424.8" y="312.4" width="11.6" height="7.6" fill="#e9b90d"/><rect x="435.9" y="312.4" width="3.0" height="7.6" fill="#e7b90c"/><rect x="77.6" y="319.5" width="3.6" height="7.6" fill="#f9f30c"/><rect x="80.7" y="319.5" width="11.6" height="7.6" fill="#f9f00b"/><rect x="91.8" y="319.5" width="11.6" height="7.6" fill="#faec0a"/><rect x="102.9" y="319.5" width="11.6" height="7.6" fill="#fbe60c"/><rect x="114.0" y="319.5" width="11.6" height="7.6" fill="#fce00e"/><rect x="125.1" y="319.5" width="11.6" height="7.6" fill="#fddb11"/><rect x="136.2" y="319.5" width="11.6" height="7.6" fill="#fed513"/><rect x="147.3" y="319.5" width="11.6" height="7.6" fill="#ffd015"/><rect x="158.4" y="319.5" width="11.6" height="7.6" fill="#ffcb19"/><rect x="169.5" y="319.5" width="11.6" height="7.6" fill="#ffc71c"/><rect x="180.6" y="319.5" width="11.6" height="7.6" fill="#ffc51e"/><rect x="191.7" y="319.5" width="11.6" height="7.6" fill="#ffc220"/><rect x="202.8" y="319.5" width="11.6" height="7.6" fill="#ffc022"/><rect x="213.9" y="319.5" width="11.6" height="7.6" fill="#ffbe23"/><rect x="225.0" y="319.5" width="11.6" height="7.6" fill="#febc25"/><rect x="236.1" y="319.5" width="11.6" height="7.6" fill="#feba27"/><rect x="247.2" y="319.5" width="11.6" height="7.6" fill="#fdb829"/><rect x="258.3" y="319.5" width="11.6" height="7.6" fill="#fdb72a"/><rect x="269.4" y="319.5" width="11.6" height="7.6" fill="#fdb62b"/><rect x="280.5" y="319.5" width="22.7" height="7.6" fill="#fcb52c"/><rect x="302.7" y="319.5" width="11.6" height="7.6" fill="#fcb42c"/><rect x="313.8" y="319.5" width="11.6" height="7.6" fill="#fab528"/><rect x="324.9" y="319.5" width="11.6" height="7.6" fill="#f9b525"/><rect x="336.0" y="319.5" width="11.6" height="7.6" fill="#f7b621"/><rect x="347.1" y="319.5" width="11.6" height="7.6" fill="#f6b61d"/><rect x="358.2" y="319.5" width="11.6" height="7.6" fill="#f5b61a"/><rect x="369.3" y="319.5" width="11.6" height="7.6" fill="#f4b717"/><rect x="380.4" y="319.5" width="11.6" height="7.6" fill="#f2b714"/><rect x="391.5" y="319.5" width="11.6" height="7.6" fill="#f1b811"/><rect x="402.6" y="319.5" width="11.6" height="7.6" fill="#f0b80e"/><rect x="413.7" y="319.5" width="11.6" height="7.6" fill="#edb80d"/><rect x="424.8" y="319.5" width="11.6" height="7.6" fill="#eab90d"/><rect x="435.9" y="319.5" width="3.0" height="7.6" fill="#e8b90d"/><rect x="77.6" y="326.6" width="3.6" height="7.6" fill="#f9f30c"/><rect x="80.7" y="326.6" width="11.6" height="7.6" fill="#f9f10b"/><rect x="91.8" y="326.6" width="11.6" height="7.6" fill="#faed0a"/><rect x="102.9" y="326.6" width="11.6" height="7.6" fill="#fbe70b"/><rect x="114.0" y="326.6" width="11.6" height="7.6" fill="#fce10e"/><rect x="125.1" y="326.6" width="11.6" height="7.6" fill="#fddc10"/><rect x="136.2" y="326.6" width="11.6" height="7.6" fill="#fed712"/><rect x="147.3" y="326.6" width="11.6" height="7.6" fill="#ffd114"/><rect x="158.4" y="326.6" width="11.6" height="7.6" fill="#ffcc18"/><rect x="169.5" y="326.6" width="11.6" height="7.6" fill="#ffc81b"/><rect x="180.6" y="326.6" width="11.6" height="7.6" fill="#ffc61d"/><rect x="191.7" y="326.6" width="11.6" height="7.6" fill="#ffc41f"/><rect x="202.8" y="326.6" width="11.6" height="7.6" fill="#ffc121"/><rect x="213.9" y="326.6" width="11.6" height="7.6" fill="#ffbf22"/><rect x="225.0" y="326.6" width="11.6" height="7.6" fill="#ffbd24"/><rect x="236.1" y="326.6" width="11.6" height="7.6" fill="#febb26"/><rect x="247.2" y="326.6" width="11.6" height="7.6" fill="#fdb928"/><rect x="258.3" y="326.6" width="22.7" height="7.6" fill="#fdb72a"/><rect x="280.5" y="326.6" width="11.6" height="7.6" fill="#fdb62b"/><rect x="291.6" y="326.6" width="11.6" height="7.6" fill="#fcb52c"/><rect x="302.7" y="326.6" width="11.6" height="7.6" fill="#fcb42d"/><rect x="313.8" y="326.6" width="11.6" height="7.6" fill="#fbb42a"/><rect x="324.9" y="326.6" width="11.6" height="7.6" fill="#f9b526"/><rect x="336.0" y="326.6" width="11.6" height="7.6" fill="#f8b523"/><rect x="347.1" y="326.6" width="11.6" height="7.6" fill="#f7b61f"/><rect x="358.2" y="326.6" width="11.6" height="7.6" fill="#f5b61c"/><rect x="369.3" y="326.6" width="11.6" height="7.6" fill="#f4b718"/><rect x="380.4" y="326.6" width="11.6" height="7.6" fill="#f3b715"/><rect x="391.5" y="326.6" width="11.6" height="7.6" fill="#f2b712"/><rect x="402.6" y="326.6" width="11.6" height="7.6" fill="#f0b80f"/><rect x="413.7" y="326.6" width="11.6" height="7.6" fill="#eeb80e"/><rect x="424.8" y="326.6" width="11.6" height="7.6" fill="#ebb80d"/><rect x="435.9" y="326.6" width="3.0" height="7.6" fill="#e9b90d"/><rect x="77.6" y="333.7" width="3.6" height="7.6" fill="#f9f40c"/><rect x="80.7" y="333.7" width="11.6" height="7.6" fill="#f9f20b"/><rect x="91.8" y="333.7" width="11.6" height="7.6" fill="#faed0a"/><rect x="102.9" y="333.7" width="11.6" height="7.6" fill="#fbe80b"/><rect x="114.0" y="333.7" width="11.6" height="7.6" fill="#fce20d"/><rect x="125.1" y="333.7" width="11.6" height="7.6" fill="#fddd10"/><rect x="136.2" y="333.7" width="11.6" height="7.6" fill="#fed812"/><rect x="147.3" y="333.7" width="11.6" height="7.6" fill="#ffd314"/><rect x="158.4" y="333.7" width="11.6" height="7.6" fill="#ffce17"/><rect x="169.5" y="333.7" width="11.6" height="7.6" fill="#ffca1a"/><rect x="180.6" y="333.7" width="11.6" height="7.6" fill="#ffc71c"/><rect x="191.7" y="333.7" width="11.6" height="7.6" fill="#ffc51e"/><rect x="202.8" y="333.7" width="11.6" height="7.6" fill="#ffc320"/><rect x="213.9" y="333.7" width="11.6" height="7.6" fill="#ffc021"/><rect x="225.0" y="333.7" width="11.6" height="7.6" fill="#ffbe23"/><rect x="236.1" y="333.7" width="11.6" height="7.6" fill="#febc25"/><rect x="247.2" y="333.7" width="11.6" height="7.6" fill="#feba27"/><rect x="258.3" y="333.7" width="11.6" height="7.6" fill="#fdb829"/><rect x="269.4" y="333.7" width="11.6" height="7.6" fill="#fdb72a"/><rect x="280.5" y="333.7" width="22.7" height="7.6" fill="#fdb62b"/><rect x="302.7" y="333.7" width="11.6" height="7.6" fill="#fcb52c"/><rect x="313.8" y="333.7" width="11.6" height="7.6" fill="#fbb42b"/><rect x="324.9" y="333.7" width="11.6" height="7.6" fill="#fab527"/><rect x="336.0" y="333.7" width="11.6" height="7.6" fill="#f9b524"/><rect x="347.1" y="333.7" width="11.6" height="7.6" fill="#f7b621"/><rect x="358.2" y="333.7" width="11.6" height="7.6" fill="#f6b61d"/><rect x="369.3" y="333.7" width="11.6" height="7.6" fill="#f5b61a"/><rect x="380.4" y="333.7" width="11.6" height="7.6" fill="#f3b716"/><rect x="391.5" y="333.7" width="11.6" height="7.6" fill="#f2b713"/><rect x="402.6" y="333.7" width="11.6" height="7.6" fill="#f1b810"/><rect x="413.7" y="333.7" width="11.6" height="7.6" fill="#efb80e"/><rect x="424.8" y="333.7" width="11.6" height="7.6" fill="#ecb80d"/><rect x="435.9" y="333.7" width="3.0" height="7.6" fill="#ebb80d"/><rect x="77.6" y="340.8" width="3.6" height="7.6" fill="#f9f50c"/><rect x="80.7" y="340.8" width="11.6" height="7.6" fill="#f9f20b"/><rect x="91.8" y="340.8" width="11.6" height="7.6" fill="#faee0b"/><rect x="102.9" y="340.8" width="11.6" height="7.6" fill="#fae90b"/><rect x="114.0" y="340.8" width="11.6" height="7.6" fill="#fce30d"/><rect x="125.1" y="340.8" width="11.6" height="7.6" fill="#fdde0f"/><rect x="136.2" y="340.8" width="11.6" height="7.6" fill="#fed911"/><rect x="147.3" y="340.8" width="11.6" height="7.6" fill="#ffd413"/><rect x="158.4" y="340.8" width="11.6" height="7.6" fill="#ffcf16"/><rect x="169.5" y="340.8" width="11.6" height="7.6" fill="#ffcb19"/><rect x="180.6" y="340.8" width="11.6" height="7.6" fill="#ffc91b"/><rect x="191.7" y="340.8" width="11.6" height="7.6" fill="#ffc61d"/><rect x="202.8" y="340.8" width="11.6" height="7.6" fill="#ffc41f"/><rect x="213.9" y="340.8" width="11.6" height="7.6" fill="#ffc120"/><rect x="225.0" y="340.8" width="11.6" height="7.6" fill="#ffbf22"/><rect x="236.1" y="340.8" width="11.6" height="7.6" fill="#ffbc25"/><rect x="247.2" y="340.8" width="11.6" height="7.6" fill="#feba27"/><rect x="258.3" y="340.8" width="22.7" height="7.6" fill="#fdb829"/><rect x="280.5" y="340.8" width="11.6" height="7.6" fill="#fdb72a"/><rect x="291.6" y="340.8" width="11.6" height="7.6" fill="#fdb62b"/><rect x="302.7" y="340.8" width="11.6" height="7.6" fill="#fcb52c"/><rect x="313.8" y="340.8" width="11.6" height="7.6" fill="#fcb42c"/><rect x="324.9" y="340.8" width="11.6" height="7.6" fill="#fab529"/><rect x="336.0" y="340.8" width="11.6" height="7.6" fill="#f9b526"/><rect x="347.1" y="340.8" width="11.6" height="7.6" fill="#f8b522"/><rect x="358.2" y="340.8" width="11.6" height="7.6" fill="#f6b61f"/><rect x="369.3" y="340.8" width="11.6" height="7.6" fill="#f5b61b"/><rect x="380.4" y="340.8" width="11.6" height="7.6" fill="#f4b718"/><rect x="391.5" y="340.8" width="11.6" height="7.6" fill="#f2b714"/><rect x="402.6" y="340.8" width="11.6" height="7.6" fill="#f1b811"/><rect x="413.7" y="340.8" width="11.6" height="7.6" fill="#f0b80e"/><rect x="424.8" y="340.8" width="11.6" height="7.6" fill="#edb80d"/><rect x="435.9" y="340.8" width="3.0" height="7.6" fill="#ecb80d"/><rect x="77.6" y="347.9" width="3.6" height="7.6" fill="#f9f50c"/><rect x="80.7" y="347.9" width="11.6" height="7.6" fill="#f9f30c"/><rect x="91.8" y="347.9" width="11.6" height="7.6" fill="#faef0b"/><rect x="102.9" y="347.9" width="11.6" height="7.6" fill="#faea0a"/><rect x="114.0" y="347.9" width="11.6" height="7.6" fill="#fbe50d"/><rect x="125.1" y="347.9" width="11.6" height="7.6" fill="#fcdf0f"/><rect x="136.2" y="347.9" width="11.6" height="7.6" fill="#fdda11"/><rect x="147.3" y="347.9" width="11.6" height="7.6" fill="#fed513"/><rect x="158.4" y="347.9" width="11.6" height="7.6" fill="#ffd015"/><rect x="169.5" y="347.9" width="11.6" height="7.6" fill="#ffcc18"/><rect x="180.6" y="347.9" width="11.6" height="7.6" fill="#ffca1a"/><rect x="191.7" y="347.9" width="11.6" height="7.6" fill="#ffc71c"/><rect x="202.8" y="347.9" width="11.6" height="7.6" fill="#ffc51e"/><rect x="213.9" y="347.9" width="11.6" height="7.6" fill="#ffc320"/><rect x="225.0" y="347.9" width="11.6" height="7.6" fill="#ffc022"/><rect x="236.1" y="347.9" width="11.6" height="7.6" fill="#ffbd24"/><rect x="247.2" y="347.9" width="11.6" height="7.6" fill="#febb26"/><rect x="258.3" y="347.9" width="11.6" height="7.6" fill="#feb928"/><rect x="269.4" y="347.9" width="22.7" height="7.6" fill="#fdb829"/><rect x="291.6" y="347.9" width="11.6" height="7.6" fill="#fdb72a"/><rect x="302.7" y="347.9" width="11.6" height="7.6" fill="#fdb62b"/><rect x="313.8" y="347.9" width="11.6" height="7.6" fill="#fcb42d"/><rect x="324.9" y="347.9" width="11.6" height="7.6" fill="#fbb42a"/><rect x="336.0" y="347.9" width="11.6" height="7.6" fill="#fab527"/><rect x="347.1" y="347.9" width="11.6" height="7.6" fill="#f8b524"/><rect x="358.2" y="347.9" width="11.6" height="7.6" fill="#f7b620"/><rect x="369.3" y="347.9" width="11.6" height="7.6" fill="#f6b61c"/><rect x="380.4" y="347.9" width="11.6" height="7.6" fill="#f4b719"/><rect x="391.5" y="347.9" width="11.6" height="7.6" fill="#f3b715"/><rect x="402.6" y="347.9" width="11.6" height="7.6" fill="#f2b712"/><rect x="413.7" y="347.9" width="11.6" height="7.6" fill="#f0b80f"/><rect x="424.8" y="347.9" width="11.6" height="7.6" fill="#eeb80e"/><rect x="435.9" y="347.9" width="3.0" height="7.6" fill="#edb80d"/><rect x="77.6" y="355.0" width="3.6" height="7.6" fill="#f9f60c"/><rect x="80.7" y="355.0" width="11.6" height="7.6" fill="#f9f40c"/><rect x="91.8" y="355.0" width="11.6" height="7.6" fill="#f9ef0b"/><rect x="102.9" y="355.0" width="11.6" height="7.6" fill="#faeb0a"/><rect x="114.0" y="355.0" width="11.6" height="7.6" fill="#fbe60c"/><rect x="125.1" y="355.0" width="11.6" height="7.6" fill="#fce00e"/><rect x="136.2" y="355.0" width="11.6" height="7.6" fill="#fddb10"/><rect x="147.3" y="355.0" width="11.6" height="7.6" fill="#fed612"/><rect x="158.4" y="355.0" width="11.6" height="7.6" fill="#ffd115"/><rect x="169.5" y="355.0" width="11.6" height="7.6" fill="#ffce17"/><rect x="180.6" y="355.0" width="11.6" height="7.6" fill="#ffcb19"/><rect x="191.7" y="355.0" width="11.6" height="7.6" fill="#ffc91b"/><rect x="202.8" y="355.0" width="11.6" height="7.6" fill="#ffc61d"/><rect x="213.9" y="355.0" width="11.6" height="7.6" fill="#ffc41f"/><rect x="225.0" y="355.0" width="11.6" height="7.6" fill="#ffc121"/><rect x="236.1" y="355.0" width="11.6" height="7.6" fill="#ffbe23"/><rect x="247.2" y="355.0" width="11.6" height="7.6" fill="#febc25"/><rect x="258.3" y="355.0" width="11.6" height="7.6" fill="#feba27"/><rect x="269.4" y="355.0" width="11.6" height="7.6" fill="#fdb928"/><rect x="280.5" y="355.0" width="11.6" height="7.6" fill="#fdb829"/><rect x="291.6" y="355.0" width="11.6" height="7.6" fill="#fdb72a"/><rect x="302.7" y="355.0" width="11.6" height="7.6" fill="#fdb62b"/><rect x="313.8" y="355.0" width="11.6" height="7.6" fill="#fcb52c"/><rect x="324.9" y="355.0" width="11.6" height="7.6" fill="#fbb42c"/><rect x="336.0" y="355.0" width="11.6" height="7.6" fill="#fab529"/><rect x="347.1" y="355.0" width="11.6" height="7.6" fill="#f9b525"/><rect x="358.2" y="355.0" width="11.6" height="7.6" fill="#f8b521"/><rect x="369.3" y="355.0" width="11.6" height="7.6" fill="#f6b61e"/><rect x="380.4" y="355.0" width="11.6" height="7.6" fill="#f5b61a"/><rect x="391.5" y="355.0" width="11.6" height="7.6" fill="#f3b716"/><rect x="402.6" y="355.0" width="11.6" height="7.6" fill="#f2b713"/><rect x="413.7" y="355.0" width="11.6" height="7.6" fill="#f1b810"/><rect x="424.8" y="355.0" width="11.6" height="7.6" fill="#efb80e"/><rect x="435.9" y="355.0" width="3.0" height="7.6" fill="#eeb80e"/><rect x="77.6" y="362.1" width="3.6" height="7.6" fill="#f8f70c"/><rect x="80.7" y="362.1" width="11.6" height="7.6" fill="#f9f40c"/><rect x="91.8" y="362.1" width="11.6" height="7.6" fill="#f9f00b"/><rect x="102.9" y="362.1" width="11.6" height="7.6" fill="#faec0a"/><rect x="114.0" y="362.1" width="11.6" height="7.6" fill="#fbe70c"/><rect x="125.1" y="362.1" width="11.6" height="7.6" fill="#fce10e"/><rect x="136.2" y="362.1" width="11.6" height="7.6" fill="#fddc10"/><rect x="147.3" y="362.1" width="11.6" height="7.6" fill="#fed712"/><rect x="158.4" y="362.1" width="11.6" height="7.6" fill="#ffd314"/><rect x="169.5" y="362.1" width="11.6" height="7.6" fill="#ffcf16"/><rect x="180.6" y="362.1" width="11.6" height="7.6" fill="#ffcc18"/><rect x="191.7" y="362.1" width="11.6" height="7.6" fill="#ffca1a"/><rect x="202.8" y="362.1" width="11.6" height="7.6" fill="#ffc81c"/><rect x="213.9" y="362.1" width="11.6" height="7.6" fill="#ffc51e"/><rect x="225.0" y="362.1" width="11.6" height="7.6" fill="#ffc220"/><rect x="236.1" y="362.1" width="11.6" height="7.6" fill="#ffbf22"/><rect x="247.2" y="362.1" width="11.6" height="7.6" fill="#febc25"/><rect x="258.3" y="362.1" width="11.6" height="7.6" fill="#feba27"/><rect x="269.4" y="362.1" width="11.6" height="7.6" fill="#feb928"/><rect x="280.5" y="362.1" width="11.6" height="7.6" fill="#fdb928"/><rect x="291.6" y="362.1" width="11.6" height="7.6" fill="#fdb829"/><rect x="302.7" y="362.1" width="11.6" height="7.6" fill="#fdb72a"/><rect x="313.8" y="362.1" width="11.6" height="7.6" fill="#fcb52c"/><rect x="324.9" y="362.1" width="11.6" height="7.6" fill="#fcb42d"/><rect x="336.0" y="362.1" width="11.6" height="7.6" fill="#fbb42a"/><rect x="347.1" y="362.1" width="11.6" height="7.6" fill="#fab527"/><rect x="358.2" y="362.1" width="11.6" height="7.6" fill="#f8b523"/><rect x="369.3" y="362.1" width="11.6" height="7.6" fill="#f7b61f"/><rect x="380.4" y="362.1" width="11.6" height="7.6" fill="#f5b61b"/><rect x="391.5" y="362.1" width="11.6" height="7.6" fill="#f4b717"/><rect x="402.6" y="362.1" width="11.6" height="7.6" fill="#f2b714"/><rect x="413.7" y="362.1" width="11.6" height="7.6" fill="#f1b811"/><rect x="424.8" y="362.1" width="11.6" height="7.6" fill="#f0b80e"/><rect x="435.9" y="362.1" width="3.0" height="7.6" fill="#efb80e"/><rect x="77.6" y="369.2" width="3.6" height="5.3" fill="#f8f70c"/><rect x="80.7" y="369.2" width="11.6" height="5.3" fill="#f9f50c"/><rect x="91.8" y="369.2" width="11.6" height="5.3" fill="#f9f10b"/><rect x="102.9" y="369.2" width="11.6" height="5.3" fill="#faed0a"/><rect x="114.0" y="369.2" width="11.6" height="5.3" fill="#fbe80b"/><rect x="125.1" y="369.2" width="11.6" height="5.3" fill="#fce20e"/><rect x="136.2" y="369.2" width="11.6" height="5.3" fill="#fddd0f"/><rect x="147.3" y="369.2" width="11.6" height="5.3" fill="#fed811"/><rect x="158.4" y="369.2" width="11.6" height="5.3" fill="#ffd413"/><rect x="169.5" y="369.2" width="11.6" height="5.3" fill="#ffd016"/><rect x="180.6" y="369.2" width="11.6" height="5.3" fill="#ffcd17"/><rect x="191.7" y="369.2" width="11.6" height="5.3" fill="#ffcb19"/><rect x="202.8" y="369.2" width="11.6" height="5.3" fill="#ffc91b"/><rect x="213.9" y="369.2" width="11.6" height="5.3" fill="#ffc61d"/><rect x="225.0" y="369.2" width="11.6" height="5.3" fill="#ffc31f"/><rect x="236.1" y="369.2" width="11.6" height="5.3" fill="#ffc022"/><rect x="247.2" y="369.2" width="11.6" height="5.3" fill="#ffbd24"/><rect x="258.3" y="369.2" width="11.6" height="5.3" fill="#febb26"/><rect x="269.4" y="369.2" width="11.6" height="5.3" fill="#feba27"/><rect x="280.5" y="369.2" width="11.6" height="5.3" fill="#feb928"/><rect x="291.6" y="369.2" width="11.6" height="5.3" fill="#fdb829"/><rect x="302.7" y="369.2" width="11.6" height="5.3" fill="#fdb72a"/><rect x="313.8" y="369.2" width="11.6" height="5.3" fill="#fdb62b"/><rect x="324.9" y="369.2" width="11.6" height="5.3" fill="#fcb52c"/><rect x="336.0" y="369.2" width="11.6" height="5.3" fill="#fbb42b"/><rect x="347.1" y="369.2" width="11.6" height="5.3" fill="#fab528"/><rect x="358.2" y="369.2" width="11.6" height="5.3" fill="#f9b524"/><rect x="369.3" y="369.2" width="11.6" height="5.3" fill="#f7b620"/><rect x="380.4" y="369.2" width="11.6" height="5.3" fill="#f5b61c"/><rect x="391.5" y="369.2" width="11.6" height="5.3" fill="#f4b718"/><rect x="402.6" y="369.2" width="11.6" height="5.3" fill="#f3b715"/><rect x="413.7" y="369.2" width="11.6" height="5.3" fill="#f2b712"/><rect x="424.8" y="369.2" width="11.6" height="5.3" fill="#f0b80f"/><rect x="435.9" y="369.2" width="3.0" height="5.3" fill="#f0b80e"/></g>
<g clip-path="url(#pc)"><g stroke="#fff" stroke-width="1.3" stroke-linecap="round" fill="none"><path d="M81.0 24.5L83.8 42.5"/><path d="M81.0 46.1L83.8 64.1"/><path d="M81.0 67.8L83.8 85.8"/><path d="M81.0 89.4L83.8 107.4"/><path d="M81.0 111.1L83.8 129.1"/><path d="M81.0 132.8L83.8 150.7"/><path d="M81.0 154.4L83.8 172.4"/><path d="M81.0 176.0L83.8 194.0"/><path d="M81.0 197.7L83.8 215.7"/><path d="M81.0 219.3L83.8 237.3"/><path d="M81.0 241.0L84.5 258.9"/><path d="M81.0 262.6L85.4 280.3"/><path d="M81.0 284.3L85.7 301.9"/><path d="M81.0 305.9L86.3 323.4"/><path d="M81.0 327.6L88.0 344.4"/><path d="M81.0 349.2L89.0 365.6"/><path d="M81.0 370.9L89.8 386.8"/><path d="M102.7 24.5L104.9 42.6"/><path d="M102.7 46.1L104.9 64.2"/><path d="M102.7 67.8L104.9 85.9"/><path d="M102.7 89.4L104.9 107.5"/><path d="M102.7 111.1L104.9 129.2"/><path d="M102.7 132.8L104.9 150.8"/><path d="M102.7 154.4L104.9 172.5"/><path d="M102.7 176.0L104.9 194.1"/><path d="M102.7 197.7L105.8 215.6"/><path d="M102.7 219.3L106.4 237.2"/><path d="M102.7 241.0L106.7 258.7"/><path d="M102.7 262.6L108.0 280.1"/><path d="M102.7 284.3L108.3 301.6"/><path d="M102.7 305.9L109.2 322.9"/><path d="M102.7 327.6L110.3 344.1"/><path d="M102.7 349.2L111.0 365.4"/><path d="M102.7 370.9L111.5 386.8"/><path d="M124.3 24.5L125.3 42.7"/><path d="M124.3 46.1L125.3 64.3"/><path d="M124.3 67.8L125.3 86.0"/><path d="M124.3 89.4L125.3 107.6"/><path d="M124.3 111.1L125.3 129.3"/><path d="M124.3 132.8L125.3 150.9"/><path d="M124.3 154.4L125.3 172.6"/><path d="M124.3 176.0L125.3 194.2"/><path d="M124.3 197.7L126.8 215.7"/><path d="M124.3 219.3L127.5 237.3"/><path d="M124.3 241.0L129.0 258.6"/><path d="M124.3 262.6L129.9 280.0"/><path d="M124.3 284.3L131.1 301.2"/><path d="M124.3 305.9L132.3 322.3"/><path d="M124.3 327.6L133.9 343.0"/><path d="M124.3 349.2L135.0 364.0"/><path d="M124.3 370.9L135.8 385.0"/><path d="M145.9 24.5L145.9 42.7"/><path d="M145.9 46.1L145.9 64.4"/><path d="M145.9 67.8L145.9 86.0"/><path d="M145.9 89.4L145.9 107.6"/><path d="M145.9 111.1L145.9 129.3"/><path d="M145.9 132.8L145.9 150.9"/><path d="M145.9 154.4L145.9 172.6"/><path d="M145.9 176.0L145.9 194.2"/><path d="M145.9 197.7L148.5 215.7"/><path d="M145.9 219.3L149.7 237.2"/><path d="M145.9 241.0L151.0 258.5"/><path d="M145.9 262.6L151.9 279.9"/><path d="M145.9 284.3L153.1 301.1"/><path d="M145.9 305.9L154.8 321.9"/><path d="M145.9 327.6L156.1 342.7"/><path d="M145.9 349.2L157.2 363.6"/><path d="M145.9 370.9L157.9 384.6"/><path d="M167.6 24.5L166.5 42.7"/><path d="M167.6 46.1L166.5 64.3"/><path d="M167.6 67.8L166.5 86.0"/><path d="M167.6 89.4L166.6 107.6"/><path d="M167.6 111.1L167.3 129.3"/><path d="M167.6 132.8L167.6 150.9"/><path d="M167.6 154.4L167.6 172.6"/><path d="M167.6 176.0L167.6 194.2"/><path d="M167.6 197.7L170.3 215.7"/><path d="M167.6 219.3L171.1 237.2"/><path d="M167.6 241.0L172.6 258.5"/><path d="M167.6 262.6L173.8 279.8"/><path d="M167.6 284.3L176.4 300.2"/><path d="M167.6 305.9L177.2 321.4"/><path d="M167.6 327.6L179.2 341.7"/><path d="M167.6 349.2L180.2 362.3"/><path d="M167.6 370.9L181.1 383.2"/><path d="M189.2 24.5L185.2 42.2"/><path d="M189.2 46.1L185.8 64.0"/><path d="M189.2 67.8L186.1 85.7"/><path d="M189.2 89.4L187.3 107.6"/><path d="M189.2 111.1L188.3 129.3"/><path d="M189.2 132.8L188.9 150.9"/><path d="M189.2 154.4L189.6 172.6"/><path d="M189.2 176.0L189.9 194.2"/><path d="M189.2 197.7L192.1 215.7"/><path d="M189.2 219.3L193.3 237.1"/><path d="M189.2 241.0L195.5 258.1"/><path d="M189.2 262.6L196.4 279.4"/><path d="M189.2 284.3L199.4 299.4"/><path d="M189.2 305.9L200.9 319.9"/><path d="M189.2 327.6L202.3 340.2"/><path d="M189.2 349.2L203.2 360.9"/><path d="M189.2 370.9L203.8 381.8"/><path d="M210.9 24.5L202.9 40.9"/><path d="M210.9 46.1L204.1 63.0"/><path d="M210.9 67.8L205.0 85.0"/><path d="M210.9 89.4L206.5 107.1"/><path d="M210.9 111.1L207.4 129.0"/><path d="M210.9 132.8L209.3 150.9"/><path d="M210.9 154.4L210.9 172.6"/><path d="M210.9 176.0L212.2 194.2"/><path d="M210.9 197.7L213.7 215.7"/><path d="M210.9 219.3L216.2 236.8"/><path d="M210.9 241.0L218.4 257.6"/><path d="M210.9 262.6L220.5 278.1"/><path d="M210.9 284.3L222.9 298.0"/><path d="M210.9 305.9L224.6 317.9"/><path d="M210.9 327.6L226.2 337.5"/><path d="M210.9 349.2L226.8 358.1"/><path d="M210.9 370.9L227.3 378.8"/><path d="M232.5 24.5L216.8 33.6"/><path d="M232.5 46.1L218.2 57.4"/><path d="M232.5 67.8L219.7 80.7"/><path d="M232.5 89.4L221.1 103.6"/><path d="M232.5 111.1L224.6 127.5"/><path d="M232.5 132.8L226.9 150.1"/><path d="M232.5 154.4L230.3 172.5"/><path d="M232.5 176.0L233.5 194.2"/><path d="M232.5 197.7L237.7 215.2"/><path d="M232.5 219.3L241.6 235.1"/><path d="M232.5 241.0L244.5 254.7"/><path d="M232.5 262.6L246.6 274.2"/><path d="M232.5 284.3L248.3 293.4"/><path d="M232.5 305.9L249.2 313.4"/><path d="M232.5 327.6L249.6 334.0"/><path d="M232.5 349.2L250.0 354.6"/><path d="M232.5 370.9L250.2 375.3"/><path d="M254.2 24.5L237.2 18.0"/><path d="M254.2 46.1L236.8 40.8"/><path d="M254.2 67.8L236.5 63.4"/><path d="M254.2 89.4L236.2 86.6"/><path d="M254.2 111.1L236.0 110.0"/><path d="M254.2 132.8L236.0 133.2"/><path d="M254.2 154.4L236.9 160.0"/><path d="M254.2 176.0L252.9 194.2"/><path d="M254.2 197.7L270.0 206.8"/><path d="M254.2 219.3L271.5 225.0"/><path d="M254.2 241.0L272.1 244.5"/><path d="M254.2 262.6L272.3 264.9"/><path d="M254.2 284.3L272.3 286.2"/><path d="M254.2 305.9L272.4 307.2"/><path d="M254.2 327.6L272.4 328.6"/><path d="M254.2 349.2L272.4 349.6"/><path d="M254.2 370.9L272.4 370.7"/><path d="M275.9 24.5L270.3 17.8"/><path d="M275.9 46.1L264.5 31.9"/><path d="M275.9 67.8L264.6 53.5"/><path d="M275.9 89.4L265.4 74.5"/><path d="M275.9 111.1L267.9 94.7"/><path d="M275.9 132.8L267.6 116.5"/><path d="M275.9 154.4L270.5 137.0"/><path d="M275.9 176.0L275.2 157.9"/><path d="M275.9 197.7L281.2 180.3"/><path d="M275.9 219.3L287.2 205.1"/><path d="M275.9 241.0L290.4 230.0"/><path d="M275.9 262.6L292.5 255.2"/><path d="M275.9 284.3L293.0 278.2"/><path d="M275.9 305.9L293.3 300.9"/><path d="M275.9 327.6L293.6 323.5"/><path d="M275.9 349.2L293.8 346.4"/><path d="M275.9 370.9L294.0 369.1"/><path d="M297.5 24.5L294.5 16.3"/><path d="M297.5 46.1L291.0 29.2"/><path d="M297.5 67.8L291.1 50.8"/><path d="M297.5 89.4L292.2 72.0"/><path d="M297.5 111.1L293.4 93.4"/><path d="M297.5 132.8L294.3 114.8"/><path d="M297.5 154.4L295.1 136.4"/><path d="M297.5 176.0L297.2 157.9"/><path d="M297.5 197.7L300.8 179.8"/><path d="M297.5 219.3L304.0 202.4"/><path d="M297.5 241.0L307.1 225.6"/><path d="M297.5 262.6L310.6 250.0"/><path d="M297.5 284.3L311.7 273.0"/><path d="M297.5 305.9L312.9 296.3"/><path d="M297.5 327.6L313.7 319.3"/><path d="M297.5 349.2L314.3 342.3"/><path d="M297.5 370.9L314.7 365.0"/><path d="M319.1 24.5L317.0 16.1"/><path d="M319.1 46.1L314.7 28.5"/><path d="M319.1 67.8L315.1 50.1"/><path d="M319.1 89.4L315.7 71.6"/><path d="M319.1 111.1L316.5 93.1"/><path d="M319.1 132.8L317.6 114.6"/><path d="M319.1 154.4L318.5 136.2"/><path d="M319.1 176.0L319.5 157.9"/><path d="M319.1 197.7L321.9 179.7"/><path d="M319.1 219.3L323.6 201.7"/><path d="M319.1 241.0L326.8 224.5"/><path d="M319.1 262.6L328.5 247.0"/><path d="M319.1 284.3L330.8 270.4"/><path d="M319.1 305.9L332.2 293.3"/><path d="M319.1 327.6L333.5 316.4"/><path d="M319.1 349.2L334.4 339.3"/><path d="M319.1 370.9L335.1 362.1"/><path d="M340.8 24.5L339.1 16.0"/><path d="M340.8 46.1L337.5 28.3"/><path d="M340.8 67.8L338.0 49.8"/><path d="M340.8 89.4L338.6 71.4"/><path d="M340.8 111.1L338.9 93.0"/><path d="M340.8 132.8L339.7 114.6"/><path d="M340.8 154.4L340.3 136.2"/><path d="M340.8 176.0L341.4 157.9"/><path d="M340.8 197.7L343.0 179.6"/><path d="M340.8 219.3L344.5 201.5"/><path d="M340.8 241.0L346.7 223.8"/><path d="M340.8 262.6L348.2 246.0"/><path d="M340.8 284.3L350.5 268.9"/><path d="M340.8 305.9L351.2 291.0"/><path d="M340.8 327.6L353.1 314.2"/><path d="M340.8 349.2L354.7 337.6"/><path d="M340.8 370.9L355.9 360.7"/><path d="M362.4 24.5L361.1 15.9"/><path d="M362.4 46.1L359.7 28.2"/><path d="M362.4 67.8L359.7 49.8"/><path d="M362.4 89.4L360.2 71.4"/><path d="M362.4 111.1L360.9 93.0"/><path d="M362.4 132.8L361.7 114.6"/><path d="M362.4 154.4L362.3 136.2"/><path d="M362.4 176.0L362.8 157.9"/><path d="M362.4 197.7L364.3 179.6"/><path d="M362.4 219.3L366.5 201.6"/><path d="M362.4 241.0L367.8 223.6"/><path d="M362.4 262.6L368.2 245.4"/><path d="M362.4 284.3L371.1 268.3"/><path d="M362.4 305.9L372.4 290.7"/><path d="M362.4 327.6L373.8 313.3"/><path d="M362.4 349.2L375.8 336.8"/><path d="M362.4 370.9L377.2 360.2"/><path d="M384.1 24.5L383.3 15.8"/><path d="M384.1 46.1L382.3 28.0"/><path d="M384.1 67.8L382.3 49.7"/><path d="M384.1 89.4L382.8 71.3"/><path d="M384.1 111.1L383.3 92.9"/><path d="M384.1 132.8L383.9 114.6"/><path d="M384.1 154.4L384.1 136.2"/><path d="M384.1 176.0L384.7 157.9"/><path d="M384.1 197.7L385.5 179.6"/><path d="M384.1 219.3L387.6 201.5"/><path d="M384.1 241.0L389.1 223.5"/><path d="M384.1 262.6L389.4 245.2"/><path d="M384.1 284.3L391.5 267.7"/><path d="M384.1 305.9L391.9 289.5"/><path d="M384.1 327.6L394.9 313.0"/><path d="M384.1 349.2L396.6 336.0"/><path d="M384.1 370.9L397.8 358.9"/><path d="M405.8 24.5L405.3 15.8"/><path d="M405.8 46.1L404.8 28.0"/><path d="M405.8 67.8L404.8 49.6"/><path d="M405.8 89.4L405.6 71.3"/><path d="M405.8 111.1L405.6 92.9"/><path d="M405.8 132.8L405.6 114.6"/><path d="M405.8 154.4L405.6 136.2"/><path d="M405.8 176.0L405.6 157.9"/><path d="M405.8 197.7L407.0 179.5"/><path d="M405.8 219.3L408.7 201.4"/><path d="M405.8 241.0L409.6 223.2"/><path d="M405.8 262.6L410.8 245.2"/><path d="M405.8 284.3L412.3 267.3"/><path d="M405.8 305.9L413.2 289.3"/><path d="M405.8 327.6L414.7 311.7"/><path d="M405.8 349.2L417.0 335.0"/><path d="M405.8 370.9L418.7 358.1"/><path d="M427.4 24.5L427.4 15.8"/><path d="M427.4 46.1L427.4 27.9"/><path d="M427.4 67.8L427.4 49.6"/><path d="M427.4 89.4L427.4 71.2"/><path d="M427.4 111.1L427.4 92.9"/><path d="M427.4 132.8L427.4 114.5"/><path d="M427.4 154.4L427.4 136.2"/><path d="M427.4 176.0L427.4 157.8"/><path d="M427.4 197.7L429.3 179.6"/><path d="M427.4 219.3L430.4 201.4"/><path d="M427.4 241.0L431.2 223.2"/><path d="M427.4 262.6L432.4 245.2"/><path d="M427.4 284.3L433.0 267.0"/><path d="M427.4 305.9L434.2 289.1"/><path d="M427.4 327.6L435.1 311.1"/><path d="M427.4 349.2L436.2 333.3"/><path d="M427.4 370.9L437.1 355.5"/></g>
<g fill="#fff" stroke="#fff" stroke-width="0.8" stroke-linejoin="round"><polygon points="84.7,47.7 81.9,42.3 85.6,41.7"/><polygon points="84.7,69.4 81.9,63.9 85.6,63.3"/><polygon points="84.7,91.0 81.9,85.6 85.6,85.0"/><polygon points="84.7,112.7 81.9,107.2 85.6,106.6"/><polygon points="84.7,134.3 81.9,128.9 85.6,128.3"/><polygon points="84.7,156.0 81.9,150.5 85.6,149.9"/><polygon points="84.7,177.6 81.9,172.2 85.6,171.6"/><polygon points="84.7,199.3 81.9,193.8 85.6,193.2"/><polygon points="84.7,220.9 81.9,215.5 85.6,214.9"/><polygon points="84.7,242.6 81.9,237.1 85.6,236.5"/><polygon points="85.5,264.1 82.5,258.7 86.2,258.0"/><polygon points="86.7,285.5 83.4,280.3 87.1,279.4"/><polygon points="87.1,307.0 83.7,301.9 87.4,300.9"/><polygon points="87.9,328.4 84.4,323.4 88.0,322.3"/><polygon points="90.0,349.3 86.0,344.7 89.5,343.2"/><polygon points="91.3,370.4 87.1,366.0 90.5,364.3"/><polygon points="92.3,391.5 87.9,387.3 91.2,385.5"/><polygon points="105.5,47.8 102.9,42.3 106.7,41.8"/><polygon points="105.5,69.5 102.9,63.9 106.7,63.5"/><polygon points="105.5,91.1 102.9,85.6 106.7,85.1"/><polygon points="105.5,112.8 102.9,107.2 106.7,106.8"/><polygon points="105.5,134.4 102.9,128.9 106.7,128.4"/><polygon points="105.5,156.1 102.9,150.5 106.7,150.1"/><polygon points="105.5,177.7 102.9,172.2 106.7,171.7"/><polygon points="105.5,199.4 102.9,193.8 106.7,193.4"/><polygon points="106.7,220.8 103.9,215.5 107.6,214.8"/><polygon points="107.5,242.3 104.5,237.1 108.2,236.3"/><polygon points="107.9,263.9 104.8,258.7 108.5,257.8"/><polygon points="109.5,285.1 106.0,280.1 109.6,279.0"/><polygon points="109.9,306.6 106.3,301.7 109.9,300.5"/><polygon points="111.1,327.9 107.2,323.2 110.8,321.8"/><polygon points="112.6,348.9 108.4,344.4 111.9,342.8"/><polygon points="113.4,370.1 109.1,365.8 112.5,364.1"/><polygon points="114.1,391.4 109.6,387.3 112.9,385.4"/><polygon points="125.5,48.0 123.3,42.3 127.1,42.1"/><polygon points="125.5,69.6 123.3,63.9 127.1,63.7"/><polygon points="125.5,91.3 123.3,85.6 127.1,85.4"/><polygon points="125.5,112.9 123.3,107.2 127.1,107.0"/><polygon points="125.5,134.6 123.3,128.9 127.1,128.7"/><polygon points="125.5,156.2 123.3,150.5 127.1,150.3"/><polygon points="125.5,177.9 123.3,172.2 127.1,172.0"/><polygon points="125.5,199.5 123.3,193.8 127.1,193.6"/><polygon points="127.6,221.0 124.9,215.5 128.6,215.0"/><polygon points="128.4,242.5 125.5,237.1 129.2,236.5"/><polygon points="130.4,263.7 127.0,258.6 130.7,257.6"/><polygon points="131.6,285.0 128.0,280.1 131.6,278.9"/><polygon points="133.1,306.1 129.2,301.4 132.7,300.0"/><polygon points="134.6,327.1 130.4,322.7 133.8,321.0"/><polygon points="136.8,347.5 132.1,343.6 135.3,341.6"/><polygon points="138.1,368.3 133.2,364.7 136.2,362.5"/><polygon points="139.2,389.1 134.0,385.8 137.0,383.4"/><polygon points="145.9,48.0 144.0,42.2 147.8,42.2"/><polygon points="145.9,69.7 144.0,63.9 147.8,63.9"/><polygon points="145.9,91.3 144.0,85.5 147.8,85.5"/><polygon points="145.9,112.9 144.0,107.1 147.8,107.1"/><polygon points="145.9,134.6 144.0,128.8 147.8,128.8"/><polygon points="145.9,156.2 144.0,150.4 147.8,150.4"/><polygon points="145.9,177.9 144.0,172.1 147.8,172.1"/><polygon points="145.9,199.5 144.0,193.7 147.8,193.7"/><polygon points="149.2,221.0 146.5,215.5 150.3,215.0"/><polygon points="150.8,242.3 147.8,237.1 151.5,236.3"/><polygon points="152.4,263.6 149.0,258.5 152.7,257.5"/><polygon points="153.6,284.9 149.9,280.0 153.5,278.8"/><polygon points="155.1,305.9 151.1,301.3 154.6,299.9"/><polygon points="157.3,326.5 152.9,322.4 156.2,320.5"/><polygon points="159.1,347.1 154.3,343.3 157.4,341.2"/><polygon points="160.4,367.8 155.3,364.4 158.3,362.0"/><polygon points="161.4,388.6 156.2,385.5 159.0,383.0"/><polygon points="166.2,48.0 164.6,42.1 168.4,42.3"/><polygon points="166.2,69.6 164.6,63.7 168.4,63.9"/><polygon points="166.2,91.3 164.6,85.4 168.4,85.6"/><polygon points="166.4,112.9 164.8,107.0 168.6,107.2"/><polygon points="167.2,134.6 165.4,128.8 169.2,128.8"/><polygon points="167.6,156.2 165.7,150.4 169.5,150.4"/><polygon points="167.6,177.9 165.7,172.1 169.5,172.1"/><polygon points="167.6,199.5 165.7,193.7 169.5,193.7"/><polygon points="171.1,220.9 168.3,215.5 172.1,214.9"/><polygon points="172.1,242.4 169.1,237.1 172.8,236.4"/><polygon points="174.1,263.6 170.7,258.5 174.3,257.5"/><polygon points="175.6,284.7 171.9,279.9 175.4,278.6"/><polygon points="179.0,304.9 174.5,300.7 177.8,298.9"/><polygon points="180.1,325.9 175.4,322.0 178.6,320.0"/><polygon points="182.5,345.8 177.4,342.5 180.3,340.1"/><polygon points="183.9,366.2 178.5,363.3 181.3,360.7"/><polygon points="185.0,386.7 179.4,384.2 182.0,381.4"/><polygon points="184.0,47.4 183.4,41.3 187.1,42.2"/><polygon points="184.8,69.2 184.0,63.2 187.7,63.9"/><polygon points="185.2,90.9 184.3,84.9 188.0,85.6"/><polygon points="186.8,112.8 185.5,106.9 189.3,107.3"/><polygon points="188.0,134.6 186.4,128.7 190.2,128.9"/><polygon points="188.8,156.2 187.0,150.4 190.8,150.5"/><polygon points="189.7,177.9 187.7,172.1 191.5,172.1"/><polygon points="190.1,199.5 188.0,193.8 191.8,193.7"/><polygon points="192.9,220.9 190.1,215.5 193.9,214.9"/><polygon points="194.5,242.2 191.4,237.0 195.1,236.2"/><polygon points="197.3,263.1 193.5,258.3 197.1,257.0"/><polygon points="198.4,284.3 194.4,279.7 197.9,278.2"/><polygon points="202.4,303.8 197.6,300.0 200.7,297.9"/><polygon points="204.4,324.0 199.2,320.7 202.1,318.3"/><polygon points="206.2,343.9 200.7,341.3 203.3,338.5"/><polygon points="207.3,364.4 201.6,362.1 204.0,359.2"/><polygon points="208.1,385.0 202.3,383.0 204.6,380.0"/><polygon points="200.6,45.6 201.4,39.6 204.8,41.2"/><polygon points="202.1,67.9 202.5,61.8 206.0,63.3"/><polygon points="203.2,90.0 203.3,83.9 206.9,85.2"/><polygon points="205.2,112.3 204.8,106.2 208.5,107.1"/><polygon points="206.4,134.2 205.7,128.1 209.4,128.8"/><polygon points="208.9,156.2 207.5,150.2 211.3,150.5"/><polygon points="210.9,177.9 209.0,172.1 212.8,172.1"/><polygon points="212.5,199.5 210.2,193.8 214.0,193.6"/><polygon points="214.6,220.9 211.8,215.5 215.5,214.9"/><polygon points="217.8,241.8 214.3,236.8 217.9,235.7"/><polygon points="220.6,262.4 216.5,257.9 220.0,256.3"/><polygon points="223.4,282.6 218.7,278.7 221.9,276.7"/><polygon points="226.4,301.9 221.2,298.8 224.0,296.3"/><polygon points="228.6,321.4 223.0,319.0 225.5,316.1"/><polygon points="230.6,340.4 224.7,338.8 226.8,335.6"/><polygon points="231.5,360.6 225.5,359.5 227.3,356.2"/><polygon points="232.1,381.1 226.0,380.3 227.7,376.9"/><polygon points="212.2,36.2 216.3,31.7 218.2,35.0"/><polygon points="214.0,60.6 217.4,55.5 219.8,58.5"/><polygon points="215.9,84.4 218.7,79.0 221.4,81.7"/><polygon points="217.8,107.7 219.9,102.0 222.9,104.4"/><polygon points="222.2,132.2 223.1,126.2 226.5,127.8"/><polygon points="225.3,155.1 225.3,149.0 228.9,150.2"/><polygon points="229.7,177.7 228.5,171.7 232.3,172.2"/><polygon points="233.8,199.5 231.6,193.8 235.4,193.6"/><polygon points="239.2,220.2 235.8,215.2 239.4,214.1"/><polygon points="244.3,239.7 239.8,235.6 243.0,233.7"/><polygon points="248.0,258.7 242.7,255.6 245.6,253.1"/><polygon points="250.7,277.6 245.0,275.4 247.4,272.4"/><polygon points="252.9,296.0 246.9,294.8 248.8,291.5"/><polygon points="254.0,315.5 247.9,314.9 249.5,311.4"/><polygon points="254.5,335.9 248.4,335.6 249.8,332.0"/><polygon points="255.0,356.1 248.9,356.2 250.0,352.6"/><polygon points="255.3,376.6 249.3,377.1 250.2,373.4"/><polygon points="232.3,16.1 238.4,16.4 237.0,19.9"/><polygon points="231.7,39.3 237.8,39.2 236.7,42.8"/><polygon points="231.4,62.1 237.5,61.7 236.6,65.4"/><polygon points="231.0,85.8 237.0,84.8 236.4,88.6"/><polygon points="230.7,109.7 236.6,108.1 236.4,111.9"/><polygon points="230.7,133.4 236.5,131.3 236.6,135.1"/><polygon points="231.9,161.7 236.8,158.1 238.0,161.7"/><polygon points="252.6,199.5 251.1,193.6 254.9,193.8"/><polygon points="274.6,209.4 268.6,208.2 270.5,204.9"/><polygon points="276.5,226.6 270.4,226.6 271.6,223.0"/><polygon points="277.3,245.5 271.2,246.2 271.9,242.5"/><polygon points="277.5,265.5 271.5,266.7 272.0,262.9"/><polygon points="277.6,286.8 271.6,288.0 272.0,284.3"/><polygon points="277.6,307.6 271.7,309.1 272.0,305.3"/><polygon points="277.7,328.8 271.8,330.4 272.0,326.6"/><polygon points="277.7,349.7 271.9,351.5 271.9,347.7"/><polygon points="277.7,370.7 271.9,372.6 271.9,368.8"/><polygon points="266.9,13.8 272.0,17.0 269.1,19.4"/><polygon points="261.3,27.7 266.3,31.1 263.4,33.5"/><polygon points="261.4,49.3 266.5,52.7 263.5,55.0"/><polygon points="262.4,70.2 267.3,73.9 264.1,76.0"/><polygon points="265.5,90.0 269.8,94.4 266.4,96.0"/><polygon points="265.2,111.8 269.5,116.1 266.1,117.8"/><polygon points="269.0,131.9 272.5,136.9 268.9,138.0"/><polygon points="275.0,152.6 277.1,158.3 273.3,158.4"/><polygon points="282.7,175.2 282.8,181.3 279.2,180.2"/><polygon points="290.5,201.0 288.4,206.7 285.4,204.3"/><polygon points="294.6,226.9 291.1,231.9 288.8,228.8"/><polygon points="297.3,253.1 292.8,257.2 291.2,253.7"/><polygon points="298.0,276.5 293.2,280.2 291.9,276.6"/><polygon points="298.4,299.5 293.4,302.9 292.3,299.2"/><polygon points="298.7,322.3 293.5,325.5 292.7,321.8"/><polygon points="299.1,345.6 293.6,348.4 293.0,344.6"/><polygon points="299.2,368.5 293.7,371.0 293.3,367.2"/><polygon points="292.7,11.3 296.5,16.1 292.9,17.4"/><polygon points="289.1,24.2 292.9,28.9 289.4,30.3"/><polygon points="289.2,45.8 293.1,50.6 289.5,51.9"/><polygon points="290.6,67.0 294.1,72.0 290.5,73.1"/><polygon points="292.2,88.2 295.4,93.4 291.7,94.3"/><polygon points="293.4,109.6 296.3,115.0 292.6,115.6"/><polygon points="294.4,131.1 297.1,136.6 293.3,137.1"/><polygon points="297.1,152.6 299.1,158.3 295.3,158.4"/><polygon points="301.8,174.6 302.6,180.6 298.9,180.0"/><polygon points="305.9,197.4 305.6,203.5 302.1,202.1"/><polygon points="310.0,221.1 308.5,227.0 305.3,225.0"/><polygon points="314.4,246.3 311.6,251.7 308.9,249.0"/><polygon points="315.9,269.7 312.5,274.8 310.2,271.8"/><polygon points="317.4,293.5 313.5,298.2 311.5,295.0"/><polygon points="318.4,316.9 314.1,321.3 312.4,317.9"/><polygon points="319.2,340.3 314.6,344.2 313.1,340.7"/><polygon points="319.7,363.3 314.9,367.0 313.6,363.4"/><polygon points="315.8,10.9 319.0,16.1 315.3,17.0"/><polygon points="313.5,23.3 316.7,28.5 313.0,29.4"/><polygon points="313.9,44.9 317.0,50.1 313.3,51.0"/><polygon points="314.7,66.4 317.6,71.7 313.9,72.4"/><polygon points="315.7,87.9 318.4,93.3 314.7,93.9"/><polygon points="317.1,109.3 319.5,115.0 315.7,115.3"/><polygon points="318.3,130.9 320.4,136.6 316.6,136.8"/><polygon points="319.6,152.6 321.4,158.4 317.6,158.3"/><polygon points="322.7,174.5 323.7,180.5 319.9,179.9"/><polygon points="324.8,196.5 325.3,202.6 321.6,201.7"/><polygon points="329.1,219.7 328.4,225.8 324.9,224.2"/><polygon points="331.3,242.5 329.9,248.5 326.6,246.5"/><polygon points="334.3,266.3 332.0,272.0 329.1,269.5"/><polygon points="336.1,289.6 333.2,295.0 330.6,292.3"/><polygon points="337.7,313.1 334.3,318.2 331.9,315.2"/><polygon points="338.9,336.5 335.0,341.2 333.0,338.0"/><polygon points="339.7,359.5 335.6,364.0 333.7,360.7"/><polygon points="338.1,10.8 341.1,16.1 337.4,16.8"/><polygon points="336.5,23.0 339.4,28.4 335.7,29.1"/><polygon points="337.1,44.6 339.9,50.0 336.2,50.6"/><polygon points="337.9,66.1 340.5,71.7 336.8,72.1"/><polygon points="338.3,87.7 340.8,93.3 337.1,93.7"/><polygon points="339.4,109.3 341.6,115.0 337.8,115.2"/><polygon points="340.2,130.9 342.2,136.7 338.4,136.8"/><polygon points="341.6,152.6 343.3,158.4 339.5,158.3"/><polygon points="343.7,174.4 344.8,180.4 341.1,179.9"/><polygon points="345.6,196.3 346.2,202.4 342.5,201.6"/><polygon points="348.5,218.8 348.4,224.9 344.8,223.6"/><polygon points="350.4,241.2 349.7,247.3 346.3,245.7"/><polygon points="353.4,264.4 351.9,270.4 348.7,268.3"/><polygon points="354.3,286.7 352.5,292.5 349.4,290.4"/><polygon points="356.7,310.3 354.2,315.8 351.4,313.3"/><polygon points="358.8,334.1 355.6,339.3 353.1,336.4"/><polygon points="360.3,357.8 356.5,362.6 354.4,359.4"/><polygon points="360.4,10.7 363.1,16.1 359.3,16.7"/><polygon points="358.9,22.9 361.7,28.4 357.9,28.9"/><polygon points="358.9,44.6 361.7,50.0 357.9,50.6"/><polygon points="359.6,66.1 362.2,71.7 358.4,72.1"/><polygon points="360.4,87.7 362.8,93.3 359.0,93.6"/><polygon points="361.4,109.3 363.6,115.0 359.8,115.1"/><polygon points="362.2,130.9 364.2,136.7 360.4,136.7"/><polygon points="362.9,152.6 364.7,158.4 360.9,158.3"/><polygon points="364.8,174.3 366.1,180.3 362.3,179.9"/><polygon points="367.7,196.5 368.3,202.5 364.6,201.7"/><polygon points="369.3,218.5 369.4,224.6 365.8,223.5"/><polygon points="369.9,240.4 369.9,246.5 366.3,245.3"/><polygon points="373.7,263.6 372.6,269.7 369.2,267.8"/><polygon points="375.2,286.2 373.7,292.1 370.5,290.1"/><polygon points="377.0,309.2 374.9,314.9 372.0,312.5"/><polygon points="379.6,333.2 376.7,338.6 374.1,335.8"/><polygon points="381.4,357.0 377.9,362.0 375.6,358.9"/><polygon points="382.7,10.6 385.2,16.2 381.4,16.5"/><polygon points="381.8,22.8 384.3,28.3 380.5,28.7"/><polygon points="381.8,44.4 384.3,50.0 380.5,50.4"/><polygon points="382.5,66.0 384.8,71.7 381.0,71.9"/><polygon points="383.1,87.6 385.2,93.3 381.4,93.5"/><polygon points="383.9,109.3 385.8,115.0 382.0,115.1"/><polygon points="384.1,130.9 386.0,136.7 382.2,136.7"/><polygon points="384.9,152.6 386.6,158.4 382.8,158.3"/><polygon points="385.9,174.3 387.4,180.2 383.6,179.9"/><polygon points="388.6,196.3 389.3,202.3 385.6,201.6"/><polygon points="390.6,218.4 390.8,224.5 387.2,223.5"/><polygon points="391.0,240.2 391.1,246.3 387.5,245.2"/><polygon points="393.7,262.8 393.0,268.9 389.6,267.4"/><polygon points="394.2,284.7 393.4,290.8 390.0,289.2"/><polygon points="398.1,308.7 396.2,314.5 393.1,312.2"/><polygon points="400.2,332.1 397.6,337.7 394.9,335.1"/><polygon points="401.8,355.4 398.7,360.7 396.2,357.8"/><polygon points="405.0,10.5 407.2,16.2 403.4,16.4"/><polygon points="404.5,22.7 406.7,28.4 402.9,28.6"/><polygon points="404.5,44.3 406.7,50.0 402.9,50.2"/><polygon points="405.5,66.0 407.5,71.7 403.7,71.8"/><polygon points="405.5,87.6 407.5,93.4 403.7,93.4"/><polygon points="405.5,109.3 407.5,115.0 403.7,115.1"/><polygon points="405.5,130.9 407.5,136.7 403.7,136.7"/><polygon points="405.5,152.6 407.5,158.3 403.7,158.4"/><polygon points="407.4,174.3 408.9,180.2 405.1,179.9"/><polygon points="409.6,196.2 410.5,202.2 406.8,201.6"/><polygon points="410.8,218.0 411.4,224.1 407.7,223.3"/><polygon points="412.2,240.1 412.5,246.2 408.8,245.1"/><polygon points="414.2,262.4 413.9,268.5 410.3,267.1"/><polygon points="415.3,284.5 414.7,290.6 411.2,289.0"/><polygon points="417.3,307.1 416.1,313.1 412.8,311.2"/><polygon points="420.3,330.8 418.2,336.5 415.2,334.2"/><polygon points="422.5,354.4 419.7,359.8 417.0,357.1"/><polygon points="427.4,10.5 429.3,16.3 425.5,16.3"/><polygon points="427.4,22.6 429.3,28.4 425.5,28.4"/><polygon points="427.4,44.3 429.3,50.1 425.5,50.1"/><polygon points="427.4,65.9 429.3,71.7 425.5,71.7"/><polygon points="427.4,87.6 429.3,93.4 425.5,93.4"/><polygon points="427.4,109.2 429.3,115.0 425.5,115.0"/><polygon points="427.4,130.9 429.3,136.7 425.5,136.7"/><polygon points="427.4,152.5 429.3,158.3 425.5,158.3"/><polygon points="429.9,174.3 431.1,180.3 427.4,179.9"/><polygon points="431.2,196.2 432.2,202.2 428.4,201.6"/><polygon points="432.3,218.0 432.9,224.1 429.2,223.3"/><polygon points="433.9,240.1 434.1,246.2 430.5,245.1"/><polygon points="434.7,262.0 434.7,268.1 431.1,266.9"/><polygon points="436.2,284.2 435.8,290.3 432.3,288.8"/><polygon points="437.3,306.3 436.6,312.4 433.2,310.8"/><polygon points="438.8,328.7 437.6,334.7 434.3,332.8"/><polygon points="439.9,351.0 438.4,356.9 435.2,354.9"/></g></g>
<rect x="77.6" y="14.2" width="360.8" height="359.8" fill="none" stroke="#1a1a1a" stroke-width="1.4"/>
<path d="M81.5 374.0v-3.6M81.5 14.2v3.6M94.4 374.0v-2.4M94.4 14.2v2.4M107.3 374.0v-2.4M107.3 14.2v2.4M120.1 374.0v-2.4M120.1 14.2v2.4M133.0 374.0v-2.4M133.0 14.2v2.4M145.9 374.0v-3.6M145.9 14.2v3.6M158.8 374.0v-2.4M158.8 14.2v2.4M171.7 374.0v-2.4M171.7 14.2v2.4M184.5 374.0v-2.4M184.5 14.2v2.4M197.4 374.0v-2.4M197.4 14.2v2.4M210.3 374.0v-3.6M210.3 14.2v3.6M223.2 374.0v-2.4M223.2 14.2v2.4M236.1 374.0v-2.4M236.1 14.2v2.4M248.9 374.0v-2.4M248.9 14.2v2.4M261.8 374.0v-2.4M261.8 14.2v2.4M274.7 374.0v-3.6M274.7 14.2v3.6M287.6 374.0v-2.4M287.6 14.2v2.4M300.5 374.0v-2.4M300.5 14.2v2.4M313.3 374.0v-2.4M313.3 14.2v2.4M326.2 374.0v-2.4M326.2 14.2v2.4M339.1 374.0v-3.6M339.1 14.2v3.6M352.0 374.0v-2.4M352.0 14.2v2.4M364.9 374.0v-2.4M364.9 14.2v2.4M377.7 374.0v-2.4M377.7 14.2v2.4M390.6 374.0v-2.4M390.6 14.2v2.4M403.5 374.0v-3.6M403.5 14.2v3.6M416.4 374.0v-2.4M416.4 14.2v2.4M429.3 374.0v-2.4M429.3 14.2v2.4M77.6 16.8h3.6M438.4 16.8h-3.6M77.6 29.7h2.4M438.4 29.7h-2.4M77.6 42.6h2.4M438.4 42.6h-2.4M77.6 55.4h2.4M438.4 55.4h-2.4M77.6 68.3h2.4M438.4 68.3h-2.4M77.6 81.2h3.6M438.4 81.2h-3.6M77.6 94.1h2.4M438.4 94.1h-2.4M77.6 107.0h2.4M438.4 107.0h-2.4M77.6 119.8h2.4M438.4 119.8h-2.4M77.6 132.7h2.4M438.4 132.7h-2.4M77.6 145.6h3.6M438.4 145.6h-3.6M77.6 158.5h2.4M438.4 158.5h-2.4M77.6 171.4h2.4M438.4 171.4h-2.4M77.6 184.2h2.4M438.4 184.2h-2.4M77.6 197.1h2.4M438.4 197.1h-2.4M77.6 210.0h3.6M438.4 210.0h-3.6M77.6 222.9h2.4M438.4 222.9h-2.4M77.6 235.8h2.4M438.4 235.8h-2.4M77.6 248.6h2.4M438.4 248.6h-2.4M77.6 261.5h2.4M438.4 261.5h-2.4M77.6 274.4h3.6M438.4 274.4h-3.6M77.6 287.3h2.4M438.4 287.3h-2.4M77.6 300.2h2.4M438.4 300.2h-2.4M77.6 313.0h2.4M438.4 313.0h-2.4M77.6 325.9h2.4M438.4 325.9h-2.4M77.6 338.8h3.6M438.4 338.8h-3.6M77.6 351.7h2.4M438.4 351.7h-2.4M77.6 364.6h2.4M438.4 364.6h-2.4" stroke="#1a1a1a" stroke-width="1.2" fill="none"/>
<rect x="455.6" y="13.8" width="38.0" height="360.0" fill="url(#cb)" stroke="#1a1a1a" stroke-width="1.4"/>
<path d="M493.6 16.5h-3.6M493.6 68.8h-3.6M493.6 121.0h-3.6M493.6 173.2h-3.6M493.6 225.5h-3.6M493.6 277.8h-3.6M493.6 330.0h-3.6" stroke="#1a1a1a" stroke-width="1.2" fill="none"/>
<text x="81.5" y="400.5" text-anchor="middle">1.17</text><text x="145.9" y="400.5" text-anchor="middle">1.18</text><text x="210.3" y="400.5" text-anchor="middle">1.19</text><text x="274.7" y="400.5" text-anchor="middle">1.20</text><text x="339.1" y="400.5" text-anchor="middle">1.21</text><text x="403.5" y="400.5" text-anchor="middle">1.22</text><text x="70.2" y="26.0" text-anchor="end">0.52</text><text x="70.2" y="90.4" text-anchor="end">0.51</text><text x="70.2" y="154.8" text-anchor="end">0.50</text><text x="70.2" y="219.2" text-anchor="end">0.49</text><text x="70.2" y="283.6" text-anchor="end">0.48</text><text x="70.2" y="348.0" text-anchor="end">0.47</text><text x="503" y="23.9">0.40</text><text x="503" y="76.2">0.38</text><text x="503" y="128.4">0.36</text><text x="503" y="180.7">0.34</text><text x="503" y="232.9">0.32</text><text x="503" y="285.2">0.30</text><text x="503" y="337.4">0.28</text>
<text x="259" y="426" text-anchor="middle" style="font-size:24px">z (μm)</text>
<text transform="translate(26.5,191.5) rotate(-90)" text-anchor="middle" style="font-size:24px">y (μm)</text>
</svg></body></html>
